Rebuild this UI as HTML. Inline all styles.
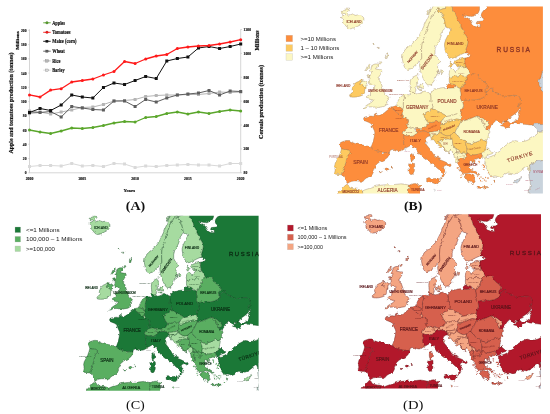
<!DOCTYPE html>
<html><head><meta charset="utf-8"><title>Figure</title>
<style>html,body{margin:0;padding:0;background:#fff}svg{display:block}</style></head><body>
<svg width="550" height="414" viewBox="0 0 550 414">
<rect width="550" height="414" fill="#fff"/>
<defs><filter id="jag" x="-2%" y="-2%" width="104%" height="104%" color-interpolation-filters="sRGB"><feTurbulence type="fractalNoise" baseFrequency="0.3" numOctaves="1" seed="7" result="n"/><feDisplacementMap in="SourceGraphic" in2="n" scale="4" xChannelSelector="R" yChannelSelector="G"/></filter></defs>
<g stroke="#c4c4c4" stroke-width="0.7" fill="none">
<path d="M29.5,29.3 V172.8 H240.7 V29.3"/>
<path d="M28.3,172.80 H29.5"/>
<path d="M28.3,158.55 H29.5"/>
<path d="M28.3,144.30 H29.5"/>
<path d="M28.3,130.05 H29.5"/>
<path d="M28.3,115.80 H29.5"/>
<path d="M28.3,101.55 H29.5"/>
<path d="M28.3,87.30 H29.5"/>
<path d="M28.3,73.05 H29.5"/>
<path d="M28.3,58.80 H29.5"/>
<path d="M28.3,44.55 H29.5"/>
<path d="M28.3,30.30 H29.5"/>
<path d="M240.7,172.80 h1.2"/>
<path d="M240.7,148.92 h1.2"/>
<path d="M240.7,125.03 h1.2"/>
<path d="M240.7,101.15 h1.2"/>
<path d="M240.7,77.27 h1.2"/>
<path d="M240.7,53.38 h1.2"/>
<path d="M240.7,29.50 h1.2"/>
</g>
<polyline points="29.50,166.5 40.06,165.5 50.62,165.5 61.18,166 71.74,163.5 82.30,166 92.86,165.5 103.42,166.5 113.98,163.5 124.54,164 135.10,167.5 145.66,166 156.22,166.5 166.78,165.5 177.34,165 187.90,164.5 198.46,165 209.02,165 219.58,166 230.14,163.5 240.70,163.5" fill="none" stroke="#d9d9d9" stroke-width="1.0" stroke-linejoin="round"/>
<rect x="28.00" y="165.00" width="3" height="3" fill="#d9d9d9"/>
<rect x="38.56" y="164.00" width="3" height="3" fill="#d9d9d9"/>
<rect x="49.12" y="164.00" width="3" height="3" fill="#d9d9d9"/>
<rect x="59.68" y="164.50" width="3" height="3" fill="#d9d9d9"/>
<rect x="70.24" y="162.00" width="3" height="3" fill="#d9d9d9"/>
<rect x="80.80" y="164.50" width="3" height="3" fill="#d9d9d9"/>
<rect x="91.36" y="164.00" width="3" height="3" fill="#d9d9d9"/>
<rect x="101.92" y="165.00" width="3" height="3" fill="#d9d9d9"/>
<rect x="112.48" y="162.00" width="3" height="3" fill="#d9d9d9"/>
<rect x="123.04" y="162.50" width="3" height="3" fill="#d9d9d9"/>
<rect x="133.60" y="166.00" width="3" height="3" fill="#d9d9d9"/>
<rect x="144.16" y="164.50" width="3" height="3" fill="#d9d9d9"/>
<rect x="154.72" y="165.00" width="3" height="3" fill="#d9d9d9"/>
<rect x="165.28" y="164.00" width="3" height="3" fill="#d9d9d9"/>
<rect x="175.84" y="163.50" width="3" height="3" fill="#d9d9d9"/>
<rect x="186.40" y="163.00" width="3" height="3" fill="#d9d9d9"/>
<rect x="196.96" y="163.50" width="3" height="3" fill="#d9d9d9"/>
<rect x="207.52" y="163.50" width="3" height="3" fill="#d9d9d9"/>
<rect x="218.08" y="164.50" width="3" height="3" fill="#d9d9d9"/>
<rect x="228.64" y="162.00" width="3" height="3" fill="#d9d9d9"/>
<rect x="239.20" y="162.00" width="3" height="3" fill="#d9d9d9"/>
<polyline points="29.50,111 40.06,112 50.62,114 61.18,112 71.74,110 82.30,107.5 92.86,107 103.42,104.5 113.98,101 124.54,100.5 135.10,99.5 145.66,96.5 156.22,95.5 166.78,95 177.34,95 187.90,94.5 198.46,94.5 209.02,93.5 219.58,92 230.14,92.5 240.70,92" fill="none" stroke="#b5b5b5" stroke-width="1.0" stroke-linejoin="round"/>
<rect x="28.00" y="109.50" width="3" height="3" fill="#b5b5b5"/>
<rect x="38.56" y="110.50" width="3" height="3" fill="#b5b5b5"/>
<rect x="49.12" y="112.50" width="3" height="3" fill="#b5b5b5"/>
<rect x="59.68" y="110.50" width="3" height="3" fill="#b5b5b5"/>
<rect x="70.24" y="108.50" width="3" height="3" fill="#b5b5b5"/>
<rect x="80.80" y="106.00" width="3" height="3" fill="#b5b5b5"/>
<rect x="91.36" y="105.50" width="3" height="3" fill="#b5b5b5"/>
<rect x="101.92" y="103.00" width="3" height="3" fill="#b5b5b5"/>
<rect x="112.48" y="99.50" width="3" height="3" fill="#b5b5b5"/>
<rect x="123.04" y="99.00" width="3" height="3" fill="#b5b5b5"/>
<rect x="133.60" y="98.00" width="3" height="3" fill="#b5b5b5"/>
<rect x="144.16" y="95.00" width="3" height="3" fill="#b5b5b5"/>
<rect x="154.72" y="94.00" width="3" height="3" fill="#b5b5b5"/>
<rect x="165.28" y="93.50" width="3" height="3" fill="#b5b5b5"/>
<rect x="175.84" y="93.50" width="3" height="3" fill="#b5b5b5"/>
<rect x="186.40" y="93.00" width="3" height="3" fill="#b5b5b5"/>
<rect x="196.96" y="93.00" width="3" height="3" fill="#b5b5b5"/>
<rect x="207.52" y="92.00" width="3" height="3" fill="#b5b5b5"/>
<rect x="218.08" y="90.50" width="3" height="3" fill="#b5b5b5"/>
<rect x="228.64" y="91.00" width="3" height="3" fill="#b5b5b5"/>
<rect x="239.20" y="90.50" width="3" height="3" fill="#b5b5b5"/>
<polyline points="29.50,113 40.06,112.5 50.62,111.5 61.18,117 71.74,106.5 82.30,108 92.86,109.5 103.42,110 113.98,101 124.54,101 135.10,106.5 145.66,99.5 156.22,102 166.78,98 177.34,95 187.90,94 198.46,93 209.02,90.5 219.58,95 230.14,91 240.70,91.5" fill="none" stroke="#5e5e5e" stroke-width="1.0" stroke-linejoin="round"/>
<rect x="28.00" y="111.50" width="3" height="3" fill="#5e5e5e"/>
<rect x="38.56" y="111.00" width="3" height="3" fill="#5e5e5e"/>
<rect x="49.12" y="110.00" width="3" height="3" fill="#5e5e5e"/>
<rect x="59.68" y="115.50" width="3" height="3" fill="#5e5e5e"/>
<rect x="70.24" y="105.00" width="3" height="3" fill="#5e5e5e"/>
<rect x="80.80" y="106.50" width="3" height="3" fill="#5e5e5e"/>
<rect x="91.36" y="108.00" width="3" height="3" fill="#5e5e5e"/>
<rect x="101.92" y="108.50" width="3" height="3" fill="#5e5e5e"/>
<rect x="112.48" y="99.50" width="3" height="3" fill="#5e5e5e"/>
<rect x="123.04" y="99.50" width="3" height="3" fill="#5e5e5e"/>
<rect x="133.60" y="105.00" width="3" height="3" fill="#5e5e5e"/>
<rect x="144.16" y="98.00" width="3" height="3" fill="#5e5e5e"/>
<rect x="154.72" y="100.50" width="3" height="3" fill="#5e5e5e"/>
<rect x="165.28" y="96.50" width="3" height="3" fill="#5e5e5e"/>
<rect x="175.84" y="93.50" width="3" height="3" fill="#5e5e5e"/>
<rect x="186.40" y="92.50" width="3" height="3" fill="#5e5e5e"/>
<rect x="196.96" y="91.50" width="3" height="3" fill="#5e5e5e"/>
<rect x="207.52" y="89.00" width="3" height="3" fill="#5e5e5e"/>
<rect x="218.08" y="93.50" width="3" height="3" fill="#5e5e5e"/>
<rect x="228.64" y="89.50" width="3" height="3" fill="#5e5e5e"/>
<rect x="239.20" y="90.00" width="3" height="3" fill="#5e5e5e"/>
<polyline points="29.50,130 40.06,132 50.62,133.5 61.18,131 71.74,128 82.30,128.5 92.86,127.5 103.42,125.5 113.98,123 124.54,121.5 135.10,122 145.66,117.5 156.22,116.5 166.78,113.5 177.34,112 187.90,114 198.46,112 209.02,113.5 219.58,111.5 230.14,110 240.70,111" fill="none" stroke="#5aa62b" stroke-width="1.3" stroke-linejoin="round"/>
<circle cx="29.50" cy="130" r="1.5" fill="#5aa62b"/>
<circle cx="40.06" cy="132" r="1.5" fill="#5aa62b"/>
<circle cx="50.62" cy="133.5" r="1.5" fill="#5aa62b"/>
<circle cx="61.18" cy="131" r="1.5" fill="#5aa62b"/>
<circle cx="71.74" cy="128" r="1.5" fill="#5aa62b"/>
<circle cx="82.30" cy="128.5" r="1.5" fill="#5aa62b"/>
<circle cx="92.86" cy="127.5" r="1.5" fill="#5aa62b"/>
<circle cx="103.42" cy="125.5" r="1.5" fill="#5aa62b"/>
<circle cx="113.98" cy="123" r="1.5" fill="#5aa62b"/>
<circle cx="124.54" cy="121.5" r="1.5" fill="#5aa62b"/>
<circle cx="135.10" cy="122" r="1.5" fill="#5aa62b"/>
<circle cx="145.66" cy="117.5" r="1.5" fill="#5aa62b"/>
<circle cx="156.22" cy="116.5" r="1.5" fill="#5aa62b"/>
<circle cx="166.78" cy="113.5" r="1.5" fill="#5aa62b"/>
<circle cx="177.34" cy="112" r="1.5" fill="#5aa62b"/>
<circle cx="187.90" cy="114" r="1.5" fill="#5aa62b"/>
<circle cx="198.46" cy="112" r="1.5" fill="#5aa62b"/>
<circle cx="209.02" cy="113.5" r="1.5" fill="#5aa62b"/>
<circle cx="219.58" cy="111.5" r="1.5" fill="#5aa62b"/>
<circle cx="230.14" cy="110" r="1.5" fill="#5aa62b"/>
<circle cx="240.70" cy="111" r="1.5" fill="#5aa62b"/>
<polyline points="29.50,112.5 40.06,108.5 50.62,110.5 61.18,105 71.74,95 82.30,97 92.86,98 103.42,87.5 113.98,83 124.54,84.5 135.10,80.5 145.66,76.5 156.22,78.5 166.78,61 177.34,58.5 187.90,57 198.46,48 209.02,46.5 219.58,48.5 230.14,46.5 240.70,44" fill="none" stroke="#111111" stroke-width="1.0" stroke-linejoin="round"/>
<rect x="28.00" y="111.00" width="3" height="3" fill="#111111"/>
<rect x="38.56" y="107.00" width="3" height="3" fill="#111111"/>
<rect x="49.12" y="109.00" width="3" height="3" fill="#111111"/>
<rect x="59.68" y="103.50" width="3" height="3" fill="#111111"/>
<rect x="70.24" y="93.50" width="3" height="3" fill="#111111"/>
<rect x="80.80" y="95.50" width="3" height="3" fill="#111111"/>
<rect x="91.36" y="96.50" width="3" height="3" fill="#111111"/>
<rect x="101.92" y="86.00" width="3" height="3" fill="#111111"/>
<rect x="112.48" y="81.50" width="3" height="3" fill="#111111"/>
<rect x="123.04" y="83.00" width="3" height="3" fill="#111111"/>
<rect x="133.60" y="79.00" width="3" height="3" fill="#111111"/>
<rect x="144.16" y="75.00" width="3" height="3" fill="#111111"/>
<rect x="154.72" y="77.00" width="3" height="3" fill="#111111"/>
<rect x="165.28" y="59.50" width="3" height="3" fill="#111111"/>
<rect x="175.84" y="57.00" width="3" height="3" fill="#111111"/>
<rect x="186.40" y="55.50" width="3" height="3" fill="#111111"/>
<rect x="196.96" y="46.50" width="3" height="3" fill="#111111"/>
<rect x="207.52" y="45.00" width="3" height="3" fill="#111111"/>
<rect x="218.08" y="47.00" width="3" height="3" fill="#111111"/>
<rect x="228.64" y="45.00" width="3" height="3" fill="#111111"/>
<rect x="239.20" y="42.50" width="3" height="3" fill="#111111"/>
<polyline points="29.50,94.9 40.06,97 50.62,90.1 61.18,88.7 71.74,82 82.30,80.5 92.86,79 103.42,75 113.98,71.5 124.54,61.5 135.10,63.5 145.66,59 156.22,56 166.78,54.5 177.34,48.5 187.90,47 198.46,46 209.02,45.5 219.58,44 230.14,42 240.70,39.7" fill="none" stroke="#ff1a1a" stroke-width="1.3" stroke-linejoin="round"/>
<circle cx="29.50" cy="94.9" r="1.5" fill="#ff1a1a"/>
<circle cx="40.06" cy="97" r="1.5" fill="#ff1a1a"/>
<circle cx="50.62" cy="90.1" r="1.5" fill="#ff1a1a"/>
<circle cx="61.18" cy="88.7" r="1.5" fill="#ff1a1a"/>
<circle cx="71.74" cy="82" r="1.5" fill="#ff1a1a"/>
<circle cx="82.30" cy="80.5" r="1.5" fill="#ff1a1a"/>
<circle cx="92.86" cy="79" r="1.5" fill="#ff1a1a"/>
<circle cx="103.42" cy="75" r="1.5" fill="#ff1a1a"/>
<circle cx="113.98" cy="71.5" r="1.5" fill="#ff1a1a"/>
<circle cx="124.54" cy="61.5" r="1.5" fill="#ff1a1a"/>
<circle cx="135.10" cy="63.5" r="1.5" fill="#ff1a1a"/>
<circle cx="145.66" cy="59" r="1.5" fill="#ff1a1a"/>
<circle cx="156.22" cy="56" r="1.5" fill="#ff1a1a"/>
<circle cx="166.78" cy="54.5" r="1.5" fill="#ff1a1a"/>
<circle cx="177.34" cy="48.5" r="1.5" fill="#ff1a1a"/>
<circle cx="187.90" cy="47" r="1.5" fill="#ff1a1a"/>
<circle cx="198.46" cy="46" r="1.5" fill="#ff1a1a"/>
<circle cx="209.02" cy="45.5" r="1.5" fill="#ff1a1a"/>
<circle cx="219.58" cy="44" r="1.5" fill="#ff1a1a"/>
<circle cx="230.14" cy="42" r="1.5" fill="#ff1a1a"/>
<circle cx="240.70" cy="39.7" r="1.5" fill="#ff1a1a"/>
<g font-family="Liberation Serif, Times New Roman, serif" font-weight="bold" font-size="4.8" fill="#111" stroke="#111" stroke-width="0.18">
<text x="26.5" y="174.35" text-anchor="end" textLength="1.85" lengthAdjust="spacingAndGlyphs">0</text>
<text x="26.5" y="160.10" text-anchor="end" textLength="3.70" lengthAdjust="spacingAndGlyphs">20</text>
<text x="26.5" y="145.85" text-anchor="end" textLength="3.70" lengthAdjust="spacingAndGlyphs">40</text>
<text x="26.5" y="131.60" text-anchor="end" textLength="3.70" lengthAdjust="spacingAndGlyphs">60</text>
<text x="26.5" y="117.35" text-anchor="end" textLength="3.70" lengthAdjust="spacingAndGlyphs">80</text>
<text x="26.5" y="103.10" text-anchor="end" textLength="5.55" lengthAdjust="spacingAndGlyphs">100</text>
<text x="26.5" y="88.85" text-anchor="end" textLength="5.55" lengthAdjust="spacingAndGlyphs">120</text>
<text x="26.5" y="74.60" text-anchor="end" textLength="5.55" lengthAdjust="spacingAndGlyphs">140</text>
<text x="26.5" y="60.35" text-anchor="end" textLength="5.55" lengthAdjust="spacingAndGlyphs">160</text>
<text x="26.5" y="46.10" text-anchor="end" textLength="5.55" lengthAdjust="spacingAndGlyphs">180</text>
<text x="26.5" y="31.85" text-anchor="end" textLength="5.55" lengthAdjust="spacingAndGlyphs">200</text>
<text x="243.6" y="174.35" textLength="3.70" lengthAdjust="spacingAndGlyphs">80</text>
<text x="243.6" y="150.47" textLength="5.55" lengthAdjust="spacingAndGlyphs">200</text>
<text x="243.6" y="126.58" textLength="5.55" lengthAdjust="spacingAndGlyphs">400</text>
<text x="243.6" y="102.70" textLength="5.55" lengthAdjust="spacingAndGlyphs">600</text>
<text x="243.6" y="78.82" textLength="5.55" lengthAdjust="spacingAndGlyphs">800</text>
<text x="243.6" y="54.93" textLength="7.40" lengthAdjust="spacingAndGlyphs">1000</text>
<text x="243.6" y="31.05" textLength="7.40" lengthAdjust="spacingAndGlyphs">1200</text>
<text x="29.50" y="180.3" text-anchor="middle" textLength="7.7" lengthAdjust="spacingAndGlyphs">2000</text>
<text x="82.30" y="180.3" text-anchor="middle" textLength="7.7" lengthAdjust="spacingAndGlyphs">2005</text>
<text x="135.10" y="180.3" text-anchor="middle" textLength="7.7" lengthAdjust="spacingAndGlyphs">2010</text>
<text x="187.90" y="180.3" text-anchor="middle" textLength="7.7" lengthAdjust="spacingAndGlyphs">2015</text>
<text x="240.70" y="180.3" text-anchor="middle" textLength="7.7" lengthAdjust="spacingAndGlyphs">2020</text>
<text x="129.3" y="191.5" text-anchor="middle" font-size="4.8">Years</text>
<text transform="translate(12.6,103) rotate(-90)" text-anchor="middle" font-size="5.2" textLength="101" lengthAdjust="spacingAndGlyphs">Apple and tomatoes production (tonnes)</text>
<text transform="translate(18.6,40.4) rotate(-90)" text-anchor="middle" font-size="5.0" textLength="18.6" lengthAdjust="spacingAndGlyphs">Millions</text>
<text transform="translate(263.3,102) rotate(-90)" text-anchor="middle" font-size="5.2" textLength="74" lengthAdjust="spacingAndGlyphs">Cereals production (tonnes)</text>
<text transform="translate(259,40.6) rotate(-90)" text-anchor="middle" font-size="5.2" textLength="19.9" lengthAdjust="spacingAndGlyphs">Millions</text>
<path d="M43.2,22.8 H50.7" stroke="#5aa62b" stroke-width="0.9"/>
<circle cx="46.95" cy="22.8" r="1.3" fill="#5aa62b"/>
<text x="52.2" y="24.7" font-size="5.8" textLength="12.8" lengthAdjust="spacingAndGlyphs">Apples</text>
<path d="M43.2,32.3 H50.7" stroke="#ff1a1a" stroke-width="0.9"/>
<circle cx="46.95" cy="32.3" r="1.3" fill="#ff1a1a"/>
<text x="52.2" y="34.199999999999996" font-size="5.8" textLength="18.2" lengthAdjust="spacingAndGlyphs">Tomatoes</text>
<path d="M43.2,41.3 H50.7" stroke="#111111" stroke-width="0.9"/>
<rect x="45.75" y="40.099999999999994" width="2.4" height="2.4" fill="#111111"/>
<text x="52.2" y="43.199999999999996" font-size="5.8" textLength="24.4" lengthAdjust="spacingAndGlyphs">Maize (corn)</text>
<path d="M43.2,51.2 H50.7" stroke="#5e5e5e" stroke-width="0.9"/>
<rect x="45.75" y="50.0" width="2.4" height="2.4" fill="#5e5e5e"/>
<text x="52.2" y="53.1" font-size="5.8" textLength="12.6" lengthAdjust="spacingAndGlyphs">Wheat</text>
<path d="M43.2,60.9 H50.7" stroke="#b5b5b5" stroke-width="0.9"/>
<rect x="45.75" y="59.699999999999996" width="2.4" height="2.4" fill="#b5b5b5"/>
<text x="52.2" y="62.8" font-size="5.8" textLength="8.2" lengthAdjust="spacingAndGlyphs">Rice</text>
<path d="M43.2,70.2 H50.7" stroke="#d9d9d9" stroke-width="0.9"/>
<rect x="45.75" y="69.0" width="2.4" height="2.4" fill="#d9d9d9"/>
<text x="52.2" y="72.10000000000001" font-size="5.8" textLength="12.4" lengthAdjust="spacingAndGlyphs">Barley</text>
</g>
<clipPath id="clipB"><rect x="325" y="6.5" width="217.89999999999998" height="186.95"/></clipPath>
<g transform="matrix(1,0,0,1,0,0)"><g clip-path="url(#clipB)">
<g stroke="#7a5a3a" stroke-width="0.3" stroke-linejoin="round" filter="url(#jag)">
<path d="M373,43.2 374.2,43.2 374.2,44.4 373,44.4ZM378.2,47.4 379.2,47.4 379.2,48.6 378.2,48.6Z" fill="#fcf7c2"/>
<path d="M451.8,3 479.5,3 479.5,10 478.5,12.5 477,14.5 474.5,16 471,16.5 467.5,16 464.5,15 462,15 463.5,15.8 466,17 468.5,18.5 470.5,20.5 472,23 473.5,25.5 476,26.8 479.5,27 480.5,25.5 478.5,24.5 476,23.5 477,21.5 480,21.2 483,21 484,19 482,17.5 481,15 482,12.5 484,10 486.5,9 487,3 546,3 546,123.8 540,123.5 536,124 533,125 530,125 526,124.5 522,124 518,123.5 515,122.5 514.5,121.5 516.5,120 518.5,118.5 519,116 518,114.5 519.5,112 520.5,109.5 519.8,108.5 518,107.5 519,105.5 520.5,102 520,98 518,95.5 512.2,95.4 506.4,96.5 501.3,95.8 499.1,93.6 495.5,92.9 492.5,89.3 489.6,89.6 486.7,92.2 484.5,96.8 485.3,93.6 484.5,90 486.7,87.8 487.5,84.2 484.5,82.5 482,80.5 480,78.5 478,76 476,74.5 473,74 470,73.5 468.5,70.5 466.5,67.5 466,67 465,64 464.5,61 465,58 468,57.5 470,56.5 470.5,55 469,54 467.5,53 464.5,53 465,52 466,49 467,46 467.8,43 468,39.5 466.5,36.5 464,33 462.5,29.5 461,26 459.5,23 457.5,20 456.5,16.5 455,13 452.5,10ZM446.5,86.5 448.5,85 450,83.5 452,84 454.5,84.5 456,85.5 455.5,87.5 452.5,88 449.5,88.2 447,88Z" fill="#fd8d3c"/>
<path d="M542,72.2 546,72.2 546,90.5 541,90.5 540.5,88 539,85 538.8,81 539.5,79 541,78 541.5,75Z" fill="#c9d3dc"/>
<path d="M461.5,101 465,100 470,99.5 475,100 480,99 484.5,96.8 486.7,92.2 489.6,89.6 492.5,89.3 495.5,92.9 499.1,93.6 501.3,95.8 506.4,96.5 512.2,95.4 518,95.5 520,98 520.5,102 519,105.5 518,107.5 519.8,108.5 518,111 515.5,113.5 512.5,115.5 509.5,117.5 508,120.5 508,121.2 505.5,121.5 503.5,121.8 501,123 498,122 496,119.8 495,121.5 493,123.5 491.5,126 490,128 489,130 486.5,130.5 485.5,129 486,126.5 487.5,125.5 488.5,123.5 486,121 483,118.5 480,117 477,116 474.5,117 471,118.5 467.5,120 464,120.5 461.3,121 461.5,117.5 460.5,115 461,112 462,109 463.5,106 463,103ZM505.5,121.5 508,121.2 509.5,122.8 512,122.2 514.5,121.8 515,123 512.5,124 510.5,125 509,127 507.5,129 505.5,128.5 504.5,126.5 502,126 500.5,125.5 502.5,123.5 504.5,122.5Z" fill="#fd8d3c"/>
<path d="M460,88.5 462,87.5 463.5,85 465,82.5 466.5,80 465.5,77 468,76 470,73.5 473,74 476,74.5 478,76 480,78.5 482,80.5 484.5,82.5 487.5,84.2 486.7,87.8 484.5,90 485.3,93.6 484.5,96.8 480,99 475,100 470,99.5 465,100 461.5,101 460,98 461,95 460.5,91.5Z" fill="#fd8d3c"/>
<path d="M481.3,152.3 484,151.5 487.1,147.9 488.5,149.4 491.5,151.9 493.3,152.6 492.2,153.7 489.6,154.5 487.5,155.5 485.6,157 484.2,158.5 483.1,158.1 482.7,155.9 481.6,154.5ZM495.1,153 498,151.9 500.9,149.7 503,148 505.5,145.5 508.5,143.5 511.5,142 514.5,140.5 517,141 520,141.5 523.5,141.5 527,140.5 530,139 533,137 536,135 538,133 538.5,132 546,131.5 546,160.2 538,161 535,162 532,163.5 529.5,165 530,168 529.8,172.5 528.8,173 528.5,169 527.5,166.5 525,168 522.5,169.5 520,171.5 517.5,173 514.5,174 511,173.5 507.5,173 505,174 503,176.5 500,177.5 497.5,176.5 495,176 492.5,176.5 490.5,175 489.6,175 488.9,173.4 487.5,171.9 487.8,169.7 486,168.3 486.7,166.1 484.9,164.3 485.6,162.5 484.2,160.6 484.9,158.8 486,157.7 489.3,157 491.5,156.3 493.6,155.2 495.1,154.1Z" fill="#fcf7c2"/>
<path d="M529.5,165 532,163.5 535,162 538,161 546,160.2 546,197 529,197 529.5,189 530.5,185 530,181 529,177 528.8,173 529.8,172.5 530,168Z" fill="#c9d3dc"/>
<path d="M533,125 536,124 540,123.5 546,123.8 546,131.5 538.5,132 538,130.5 537,129 535,127Z" fill="#c9d3dc"/>
<path d="M513,183 514.5,181.2 516.5,179.8 519,178.2 521.5,176.5 522,177.2 520,179.5 519.5,181 517.5,182.5 515,183.5 513.5,183.8Z" fill="#c9d3dc"/>
<path d="M341.73,12.09 343.91,10.27 345.73,9.18 348.64,9.18 349.36,11 347.91,12.45 347.18,13.91 348.64,15 350.09,14.64 351.55,13.91 353.73,14.64 355.55,15.36 357.36,15 359.55,14.64 361,15.36 362.45,16.45 363.55,18.27 363.91,20.09 363.18,21.91 362.09,23.73 359.91,25.18 357.73,26.27 355.18,27.36 352.64,28.45 350.09,28.82 347.91,28.09 346.45,26.64 345,24.82 343.91,23.36 342.09,22.27 341.36,21.18 342.82,20.45 343.91,19.36 342.45,18.27 340.64,17.18 340.64,16.09 342.45,15.73 344.27,15.36 345,14.27 343.55,13.55 342.09,13.18Z" fill="#fcf7c2"/>
<path d="M434.5,3 446.2,3 445.5,8.5 443,8.8 440,10 437.5,9 436.5,9.5 434.5,13 432,17 430,21 428.5,25 427,29 426,33 424.2,37.5 422.5,42 421.8,46 421.5,51 421.8,57 420.5,61 418.5,62 416.5,65 414.5,66.5 411.5,68.5 408,69.5 405,68 403.4,64.5 402.3,58.5 402.9,53.8 405.1,49.5 409.5,45.8 413.8,42.2 417,39 419.5,35 421.5,31 423.5,27 425,23 427,19 428.5,15 430,11 432,8.5ZM426.8,14.5 428,11.5 430,8.8 430.8,9.2 429,12 427.6,15Z" fill="#fcf7c2"/>
<path d="M437.5,9 439.5,11.5 442.5,15 444,18.5 445,22.5 445.7,26.5 444.5,28 443,31 441.5,35 440,39 438,42.5 436,46 435,50 435,54 436.5,57 438.5,59.5 440,61 439.5,63.5 438,65 437.5,68 438,71 437.5,74 436,76 434.5,80 433,82.5 430.5,84.5 428,85 426,83.5 424.5,81 422.5,77 421,73 420,69 419.5,65 420.5,61 421.8,57 421.5,51 421.8,46 422.5,42 424.2,37.5 426,33 427,29 428.5,25 430,21 432,17 434.5,13 436.5,9.5ZM441,69.6 442.9,71.8 441.5,74.7 440.4,72.5ZM438.3,70.4 439,70.6 439.5,74 438.9,74.2Z" fill="#fcf7c2"/>
<path d="M446.2,3 451.8,3 452.5,10 455,13 456.5,16.5 457.5,20 459.5,23 461,26 462.5,29.5 464,33 466.5,36.5 468,39.5 467.8,43 467,46 466,49 465,52 464.5,53 461,54.5 458,56 455,57.5 452,58.5 449.5,57.5 447.5,55.5 446,53 445,50 444.5,47 444.5,43.5 445.5,40 447,37 448.5,34 450.5,30.5 450,28.5 446.5,27 445.7,26.5 445,22.5 444,18.5 442.5,15 439.5,11.5 437.5,9 440,10 443,8.8 445.5,8.5Z" fill="#fdca60"/>
<path d="M454.5,61.5 457,60 460,59 463,58.5 465,58 464.5,61 465,64 466,67 464,66.5 461,67 458.5,66 457,66 455,65 453.5,63.5ZM450,63.5 451.5,64 452,66 450.5,67.5 449.5,66ZM450.5,61 452,61.5 451.5,62.5 450.3,62.3Z" fill="#fdca60"/>
<path d="M449.5,77.5 449,74 449.5,71 450.5,69.5 452.5,68.5 454.5,70.5 455.5,72.5 457,71 458,68.5 458.5,66 461,67 464,66.5 466.5,67.5 468.5,70.5 470,73.5 468,76 465.5,77 463,76 460,75.5 457,76 454,76.5 451.5,77Z" fill="#fcf7c2"/>
<path d="M449.5,77.5 451.5,77 454,76.5 457,76 460,75.5 463,76 465.5,77 466.5,80 465,82.5 463.5,85 462,87.5 460,88.5 458,87.5 456,85.5 454.5,84.5 452,84 450,83.5 449.3,82 449.2,79.5Z" fill="#fdca60"/>
<path d="M430.2,94 433,90.5 436,89 440,88 444,87.5 446.5,88 447,88 449.5,88.2 452.5,88 455.5,87.5 458,87.5 460,88.5 460.5,91.5 461,95 460,98 461.5,101 463,103 463.5,106 462,109 461,112 460.5,115 456.5,114 453,115 450,116 446.5,116.5 445,115 442,113.5 439.5,112 437,111 435,109.5 432.3,109.3 432.8,106.5 431.8,104 430.8,101 430.8,97Z" fill="#fcf7c2"/>
<path d="M403.5,95 406.5,94.5 409.5,95 410.8,92.2 415,92.5 416.5,94 419.5,93.5 422.5,92 425,91 428.5,92.5 430.2,94 430.8,97 430.8,101 431.8,104 432.8,106.5 432.3,109.3 429,111 426,112.5 424,114 424.5,117 426,120 428.5,123 427.5,124.5 426,127 424,128 421,129 418,128.5 415,129 413.5,128 411,127 407.5,128.5 407,126.5 407.8,123 408.5,119.8 405.5,118.5 402.5,117.8 403.5,116 402.3,114.5 402,113 403,111 402.5,109 403.5,107 403.2,104 403.5,101 404.5,98Z" fill="#fcf7c2"/>
<path d="M410.5,80 410,84 410.5,88 410.8,92.2 415,92.5 416,90 415,87.5 417,85.5 416.5,82.5 418,80 417.5,77 418,74.5 415,76 412,77.5ZM417,86.5 419,86 419.5,88 417.5,88.8ZM420,84.5 423,83.5 424,86 422.5,88.5 420.5,88 419.8,86.2ZM419.5,89.5 422,89.8 422,90.6 419.5,90.4ZM430.8,84.4 431.8,84.4 431.8,85.4 430.8,85.4Z" fill="#fcf7c2"/>
<path d="M395.8,106 397,103 398.5,100 400.5,97 403.5,95 404.5,98 403.5,101 403.2,104 403.5,107 402.5,109 400.5,107.5 398,106.5Z" fill="#fcf7c2"/>
<path d="M391.5,107 395.8,106 398,106.5 400.5,107.5 402.5,109 403,111 402,113 402.3,114.5 401,115 399,114.5 397.5,113 395.5,111.5 393.5,110 392,108.5Z" fill="#fd8d3c"/>
<path d="M401,115 402.3,114.5 403.5,116 402.5,117.8 401.2,117Z" fill="#fd8d3c"/>
<path d="M363.5,118.5 364.5,117 367.5,116.5 371,116 374,116.5 374.5,114 376.5,113 377,115.5 380.5,115 384,113 387,110.5 389.5,108.5 391.5,107 392,108.5 393.5,110 395.5,111.5 397.5,113 399,114.5 401,115 401.2,117 402.5,117.8 405.5,118.5 408.5,119.8 407.8,123 407,126.5 407,128.3 405,130 403,131.5 402.5,133.5 404,135 403.5,137 404.5,139.5 403.5,142 404.5,145 405.5,148 404.5,149 402,150.5 399.5,151 397,150.5 394.5,149.5 392,149.5 390,150.5 389.5,153 388,152.5 385.5,152.5 382.5,152.5 380,151.5 377,151 373.5,149.5 370,147.5 371.5,146 373,142 374,138 374.8,134 374.5,131 372.5,127 371.5,124 369,122.5 366.5,121.5 364,120.5ZM411.5,154.5 413,153.5 414,156 413.8,160 412.5,162 411.2,161 410.5,158 410.8,155.5Z" fill="#fd8d3c"/>
<path d="M407.5,128.5 411,127 413.5,128 415,129 415.5,131 417.5,132 417,134 415,134.5 413.5,136 411.5,136.5 409.5,135 407.5,136 405.5,135.5 404,135 402.5,133.5 403,131.5 405,130 407,128.3Z" fill="#fcf7c2"/>
<path d="M415,129 418,128.5 421,129 424,128 426,127 427.5,124.5 428.5,123 430,122 432.5,122.5 435,121.5 438,121 440.5,121.5 441.5,124 441,126.5 440.5,129 439.5,130.5 438,131 435,131.5 432,132 429,132 426,131.5 423,131 420,131.5 417.5,132 415.5,131Z" fill="#fd8d3c"/>
<path d="M424,114 426,112.5 429,111 432.3,109.3 435,109.5 437,111 439.5,112 442,113.5 445,115 446.5,116.5 444.5,118.5 442.5,119.5 441.5,121.5 440.5,121.5 438,121 435,121.5 432.5,122.5 430,122 428.5,123 426,120 424.5,117Z" fill="#fdca60"/>
<path d="M441.5,121.5 442.5,119.5 444.5,118.5 446.5,116.5 450,116 453,115 456.5,114 460.5,115 461.5,117.5 461.5,120 459.5,119.5 456.5,119 453.5,120 450.5,121.5 447.5,122.5 444.5,123.5 442,123.5 441.3,122.5Z" fill="#fcf7c2"/>
<path d="M442,123.5 444.5,123.5 447.5,122.5 450.5,121.5 453.5,120 456.5,119 459.5,119.5 461.5,120 461,121.5 459.5,124.5 458,127.5 456,130 455,133 453.5,132.5 452,134 450,135.5 447,136 444,135 441.5,133.5 439.5,132 440.5,129 441,126.5 441.5,124Z" fill="#fdca60"/>
<path d="M429,132 432,132 435,131.5 438,131 439.5,130.5 439.5,132 438.5,134 436.5,135 434,136 432,136.5 430,136 429.5,134.5 429,133Z" fill="#fcf7c2"/>
<path d="M438.5,134 439.5,132 441.5,133.5 444,135 447,136 450,135.5 451.5,136.5 452,139 450.5,139.5 448,139 445,139.5 442.5,140 440,140.5 439,141.5 440.5,144 442.5,146.5 444.5,149 446.5,151 449,153 450,154 448,152.5 445.5,150.5 443,148.5 440.5,146.5 438,145 436.5,144 435,141.5 433.5,139.5 432,140 431.5,140 431,138 430.5,136.5 432,136.5 434,136 436.5,135Z" fill="#fdca60"/>
<path d="M439,141.5 440,140.5 442.5,140 445,139.5 448,139 450.5,139.5 452,139 452.5,142 453,145 454,147.5 452.5,147.5 450.5,149.5 450,151 449,153 446.5,151 444.5,149 442.5,146.5 440.5,144Z" fill="#fcf7c2"/>
<path d="M451.5,136.5 450,135.5 452,134 453.5,132.5 455,133 457.5,135 459.5,137.5 461.5,139.5 464,140.5 465,141.5 465.5,144 466.5,146.5 467,149.5 466.5,151.5 467,154 464,153 461.5,152.5 460,152.5 459.5,150.5 457.5,149.5 456,148.5 454,147.5 453,145 452.5,142 452,139Z" fill="#fdca60"/>
<path d="M450.5,149.5 452.5,147.5 454,147.5 456,148.5 456.5,150.5 456.5,153 455,152.5 453.5,153.5 452,152 450,151Z" fill="#fcf7c2"/>
<path d="M456,148.5 457.5,149.5 459.5,150.5 460,152.5 458.5,154 456.5,153 456.5,150.5Z" fill="#fcf7c2"/>
<path d="M453.5,153.5 455,152.5 456.5,153 458.5,154 457.5,155.5 458,158 458.5,161 457,163 455.5,161.5 454.5,158.5 454,155.5Z" fill="#fcf7c2"/>
<path d="M458.5,154 460,152.5 461.5,152.5 464,153 467,154 467,156.5 465,158 462,158.5 459.5,159 458,158 457.5,155.5Z" fill="#fcf7c2"/>
<path d="M465,141.5 467.5,143 471,143.5 475,142.5 479,141 483,139.5 486,140 487,142 486.5,145 485.5,148 487,148.2 487.1,148 484,151.5 481.3,152.3 480,154 477,154.5 474,155 470.5,154.5 467,154 466.5,151.5 467,149.5 466.5,146.5 465.5,144Z" fill="#fdca60"/>
<path d="M461,121.5 464,120.5 467.5,120 471,118.5 474.5,117 477,116 478,117.5 480,119.5 482,122 483.5,124.5 484.5,127 485.5,129 486.5,130.5 489,130 490,132 488.5,134.5 488,138 487,140 486,140 483,139.5 479,141 475,142.5 471,143.5 467.5,143 465,141.5 464,140.5 461.5,139.5 459.5,137.5 457.5,135 455,133 456,130 458,127.5 459.5,124.5Z" fill="#fcf7c2"/>
<path d="M477,116 480,117 483,118.5 486,121 488.5,123.5 487.5,125.5 486,126.5 485.5,129 484.5,127 483.5,124.5 482,122 480,119.5 478,117.5Z" fill="#fcf7c2"/>
<path d="M458.5,161 458,158 459.5,159 462,158.5 465,158 467,156.5 467,154 470.5,154.5 474,155 477,154.5 480,154 481.3,152.3 481.6,154.5 482.4,156 481.5,157.5 479.5,158 476.5,158.5 474,160 475.2,161.8 474.2,163 473.2,161 472.6,163.5 471.6,161 471.5,160.5 470,162 469,164.5 470,167 471.5,169 474,170.5 476.5,172 479,173.7 478.5,174.7 475.5,173.6 473,173 471,172.5 469,173 466,173.5 463.5,173.5 461.5,172 460,170 459,167.5 459.5,165 457,163ZM465,175 467.5,174 470.5,174 473,175 474.5,177 473.5,179 474.5,181.5 474,184 472.5,182 471.5,183.5 470,181.5 468.5,182.5 467,180 465.5,177.5ZM476.5,187 479,186.5 482,186.8 485,186.5 488.5,186.5 488.5,187.5 485.5,188 482,188.5 479,188.2 476.5,188ZM494,180 495.2,180.8 494.6,182.6 493.8,181.5Z" fill="#fd8d3c"/>
<path d="M405.5,148 404.5,145 403.5,142 404.5,139.5 403.5,137 404,135 405.5,135.5 407.5,136 409.5,135 411.5,136.5 413.5,136 415,134.5 417,134 417.5,132 420,131.5 423,131 426,131.5 429,132 429,133 429.5,134.5 430,136 428,136.5 426,138 425,140.5 425.5,143.5 427.5,146 430,149 432,152 434,155 436,157 438.5,157.5 440.5,158 439.5,159.5 442,160.5 444.5,161.5 447.5,163 450,164.5 451.2,166 450.5,167.5 449,166 447,165 445,165.5 443.5,167 444,169 445.5,170.5 446,172.5 444.5,174.5 443.5,176.5 442,178.5 440.5,179 441.5,177.5 442.2,175 441.5,172.5 439.5,170 437,168 435,166 433.5,164 431,162.5 428.5,161 425.5,159.5 423,157.5 420.5,155 419,153.5 417.5,151 416,148.5 413.5,146.5 410.5,145.5 408,147ZM426.5,179.5 429,178.5 432,178.8 435,178.5 438.5,177.8 439.5,178.5 439,180.5 438.5,183 437.5,185 435.5,184 433,183 430.5,182 428,181.2 426.5,180.5ZM408.5,164.5 410.5,163.5 413,163 414.5,164.5 414.8,168 414.2,171.5 413,174 411,174.8 409.5,173.5 409,170 408.8,167Z" fill="#fd8d3c"/>
<path d="M340.5,142.5 343,141.5 346,140.5 348.5,140.5 351.5,142 355,143.5 359,144.5 363,145 366.5,146 370,147.5 373.5,149.5 377,151 380,151.5 382.5,152.5 385.5,152.5 388,152.5 389.5,153 389,155 387.5,157.5 385,159.5 382,161 379.5,162 377.5,163.5 375.5,165.5 374,168 373.2,170.5 373.5,172 372,175 369.5,177 366.5,178 364.5,179.5 363,181.5 360.5,181.2 357.5,181 354,181 351,181.5 349,182.5 347.5,183.5 346,181.5 345,179 343.5,176.5 342.5,174.5 343,171 344,168 345,165 346,162 346.5,159 346.8,157 348,155 350,153 349.5,151 347,150 344,149.5 341.5,149 341,147.5 340,145ZM385,168.5 387.5,167.8 389,169.5 387.5,171 385.5,170.5ZM391,167.3 392.6,167.6 392.5,168.4 391,168.2ZM379.8,171.5 381.2,171.3 381.2,172.7 379.8,172.6Z" fill="#fd8d3c"/>
<path d="M341.5,149 344,149.5 347,150 349.5,151 350,153 348,155 346.8,157 346.5,159 346,162 345,165 344,168 343,171 342.5,174.5 340.5,174.8 337.5,174.5 335,174 334.6,172 335.2,169 334.6,166 335.3,163 337,160 339,156.5 340.5,152.5Z" fill="#fdca60"/>
<path d="M336,197 338.5,192 341,190 343,188 345,185.5 347,184 348.5,185.5 349.5,187.5 352,188.5 355,189 358.5,189.5 361,190 362.5,191 363,197Z" fill="#fdca60"/>
<path d="M362.5,191 364.5,190 367.5,189 370.5,188 374,186.8 377.5,185.8 381,185.2 385,184.8 389.6,184.8 395.5,184.4 401.3,183.8 405,184.3 408.5,185 409,187 408.5,190 408,197 363,197Z" fill="#fcf7c2"/>
<path d="M408,197 408.5,190 409,187 408.5,185 410.5,185 413,183.8 415.5,183.5 417.5,184.5 418.5,186 420.5,184.5 420.8,186 419.5,188 420,190 420.5,192 420,197Z" fill="#fd8d3c"/>
<path d="M358.5,81.5 360.5,80 362.5,79.8 361.5,82 360,83.5 361.5,84.5 363.5,86 365,87 364.8,90 364.5,93 363,95 360,96.2 356.5,97 353,97.2 350,96.8 349.5,95 351,93.5 353,92 352,90 352.5,87.5 354,85.5 353.5,83.5 355.5,83 357,82Z" fill="#fdca60"/>
<path d="M372.5,65 375,64 378,64 378,64.5 377,66.5 375.5,69 378.5,69.5 381.5,70 382,72 380,75 378.5,77.5 378,79 380,80 381,83 382,86 383,89 384,92 385.2,94.5 387.5,96 389,98 388,100.5 385.5,102 387.5,103 386.5,105 384,106.5 381,107 378,107.5 375.5,107 373,107.2 370.5,106.8 367.5,107 365,108.5 362.5,108.5 364.5,107 367,105 369.5,103.5 372,102 373.5,100 371,99.5 368.5,99 365.5,98.5 366.5,96.5 369,95 371,93 369.5,91.5 372,90.5 374.3,89 374.5,87 375,85.5 374.5,85 372.5,84.5 370,84 369,82 370,79.5 369,77 370,75 371.5,72.5 370.5,70.5 371.5,67.5ZM361.5,82 362.5,79.8 365,80.5 367.2,82 367.8,84.5 366.5,86.2 365,87 363.5,86 361.5,84.5 360,83.5ZM365.5,70 367.5,66 370,64 369.8,65.8 367.8,69 366.2,70.8ZM367,75 369.5,74.5 370,76 367.5,76.5ZM366.5,77.7 369,78.1 369,79 366.5,78.6ZM379,63.5 381,61.5 381.8,62.5 380.2,64ZM385.5,57 387,54 388,54 387,57.5Z" fill="#fcf7c2"/>
<circle cx="484" cy="165.7" r="1.1" fill="#fd8d3c" stroke-width="0.12"/>
<circle cx="483.7" cy="170" r="0.7999999999999999" fill="#fd8d3c" stroke-width="0.12"/>
<circle cx="488" cy="172.5" r="0.7" fill="#fd8d3c" stroke-width="0.12"/>
<circle cx="461" cy="174.5" r="0.9" fill="#fd8d3c" stroke-width="0.12"/>
<circle cx="462" cy="177.5" r="0.7" fill="#fd8d3c" stroke-width="0.12"/>
<circle cx="457.5" cy="168" r="0.7999999999999999" fill="#fd8d3c" stroke-width="0.12"/>
<circle cx="479" cy="162.5" r="0.7" fill="#fd8d3c" stroke-width="0.12"/>
<circle cx="477" cy="159" r="0.6" fill="#fd8d3c" stroke-width="0.12"/>
<circle cx="491" cy="176.5" r="0.6" fill="#fd8d3c" stroke-width="0.12"/>
<circle cx="491.5" cy="184" r="0.6" fill="#fd8d3c" stroke-width="0.12"/>
<circle cx="481" cy="177" r="0.6" fill="#fd8d3c" stroke-width="0.12"/>
<circle cx="483" cy="178.5" r="0.6" fill="#fd8d3c" stroke-width="0.12"/>
<circle cx="484.5" cy="180" r="0.6" fill="#fd8d3c" stroke-width="0.12"/>
<circle cx="482" cy="181" r="0.6" fill="#fd8d3c" stroke-width="0.12"/>
<circle cx="485.5" cy="177.5" r="0.6" fill="#fd8d3c" stroke-width="0.12"/>
<circle cx="480.5" cy="179.5" r="0.6" fill="#fd8d3c" stroke-width="0.12"/>
<circle cx="486" cy="181" r="0.6" fill="#fd8d3c" stroke-width="0.12"/>
<circle cx="478.5" cy="176" r="0.6" fill="#fd8d3c" stroke-width="0.12"/>
<circle cx="487.5" cy="179" r="0.5" fill="#fd8d3c" stroke-width="0.12"/>
<circle cx="382.8" cy="153.2" r="0.85" fill="#ffffff" stroke="#888" stroke-width="0.3"/>
<circle cx="405.2" cy="148.6" r="0.85" fill="#ffffff" stroke="#888" stroke-width="0.3"/>
<circle cx="426.5" cy="158.8" r="0.85" fill="#ffffff" stroke="#888" stroke-width="0.3"/>
<circle cx="434.5" cy="190.2" r="0.85" fill="#ffffff" stroke="#888" stroke-width="0.3"/>
<circle cx="415.2" cy="130.2" r="0.85" fill="#ffffff" stroke="#888" stroke-width="0.3"/>
<circle cx="426.3" cy="143.2" r="0.85" fill="#ffffff" stroke="#888" stroke-width="0.3"/>
</g>
</g>
<g clip-path="url(#clipB)" font-family="Liberation Sans, Arial, sans-serif" text-anchor="middle">
<text x="353.9" y="23.0" font-size="3.46" fill="#8a3324" textLength="15.0" lengthAdjust="spacingAndGlyphs" stroke="#8a3324" stroke-width="0.13">ICELAND</text>
<text x="413.6" y="57.6" font-size="3.43" fill="#8a3324" transform="rotate(-49 413.6 57.6)" textLength="15" lengthAdjust="spacingAndGlyphs" stroke="#8a3324" stroke-width="0.13">NORWAY</text>
<text x="428.2" y="62.6" font-size="4.21" fill="#8a3324" transform="rotate(-54 428.2 62.6)" textLength="18.5" lengthAdjust="spacingAndGlyphs" stroke="#8a3324" stroke-width="0.13">SWEDEN</text>
<text x="455.4" y="44.5" font-size="3.81" fill="#8a3324" textLength="16.3" lengthAdjust="spacingAndGlyphs" stroke="#8a3324" stroke-width="0.13">FINLAND</text>
<text x="513.3" y="51.6" font-size="6.6" fill="#8a3324" textLength="33.4" lengthAdjust="spacing" stroke="#8a3324" stroke-width="0.3">RUSSIA</text>
<text x="459.5" y="63.3" font-size="1.6" fill="#8a3324" textLength="7" lengthAdjust="spacingAndGlyphs" opacity="0.85">ESTONIA</text>
<text x="461.5" y="73.5" font-size="1.78" fill="#8a3324" textLength="6" lengthAdjust="spacingAndGlyphs" opacity="0.85">LATVIA</text>
<text x="458.2" y="81.6" font-size="2.2" fill="#8a3324" textLength="11.5" lengthAdjust="spacingAndGlyphs" opacity="0.85">LITHUANIA</text>
<text x="473.5" y="92" font-size="3.86" fill="#8a3324" textLength="18" lengthAdjust="spacingAndGlyphs" stroke="#8a3324" stroke-width="0.13">BELARUS</text>
<text x="447" y="102.8" font-size="4.62" fill="#8a3324" textLength="19" lengthAdjust="spacingAndGlyphs" stroke="#8a3324" stroke-width="0.13">POLAND</text>
<text x="417.2" y="109" font-size="4.45" fill="#8a3324" textLength="22.5" lengthAdjust="spacingAndGlyphs" stroke="#8a3324" stroke-width="0.13">GERMANY</text>
<text x="487.3" y="109" font-size="4.81" fill="#8a3324" textLength="21.4" lengthAdjust="spacingAndGlyphs" stroke="#8a3324" stroke-width="0.13">UKRAINE</text>
<text x="388.7" y="131.8" font-size="4.74" fill="#8a3324" textLength="19.5" lengthAdjust="spacingAndGlyphs" stroke="#8a3324" stroke-width="0.13">FRANCE</text>
<text x="360.5" y="163.6" font-size="4.99" fill="#8a3324" textLength="14.6" lengthAdjust="spacingAndGlyphs" stroke="#8a3324" stroke-width="0.13">SPAIN</text>
<text x="415.5" y="142" font-size="4.18" fill="#8a3324" textLength="11" lengthAdjust="spacingAndGlyphs" stroke="#8a3324" stroke-width="0.13">ITALY</text>
<text x="471.7" y="132.9" font-size="3.54" fill="#8a3324" textLength="16.5" lengthAdjust="spacingAndGlyphs" stroke="#8a3324" stroke-width="0.13">ROMANIA</text>
<text x="520.3" y="158.6" font-size="5.2" fill="#8a3324" transform="rotate(-17 520.3 158.6)" textLength="26.2" lengthAdjust="spacing" stroke="#8a3324" stroke-width="0.13">TÜRKIYE</text>
<text x="387.6" y="192.3" font-size="4.61" fill="#8a3324" textLength="20" lengthAdjust="spacingAndGlyphs" stroke="#8a3324" stroke-width="0.13">ALGERIA</text>
<text x="350.7" y="192.9" font-size="3.09" fill="#8a3324" textLength="16.5" lengthAdjust="spacingAndGlyphs" stroke="#8a3324" stroke-width="0.13">MOROCCO</text>
<text x="417.7" y="191.2" font-size="3.42" fill="#8a3324" textLength="13.5" lengthAdjust="spacingAndGlyphs" stroke="#8a3324" stroke-width="0.13">TUNISIA</text>
<text x="336.3" y="158.2" font-size="2.55" fill="#8a3324" textLength="14" lengthAdjust="spacingAndGlyphs" opacity="0.85">PORTUGAL</text>
<text x="343.2" y="86.8" font-size="3.32" fill="#8a3324" textLength="14.4" lengthAdjust="spacingAndGlyphs" stroke="#8a3324" stroke-width="0.13">IRELAND</text>
<text x="380.2" y="91.9" font-size="2.79" fill="#8a3324" textLength="24.5" lengthAdjust="spacingAndGlyphs" stroke="#8a3324" stroke-width="0.13">UNITED KINGDOM</text>
<text x="403.2" y="81.3" font-size="2.5" fill="#8a3324" textLength="12.5" lengthAdjust="spacingAndGlyphs" opacity="0.85">DENMARK</text>
<text x="396.2" y="95.2" font-size="1.95" fill="#8a3324" textLength="14.5" lengthAdjust="spacingAndGlyphs" opacity="0.85">NETHERLANDS</text>
<text x="398.5" y="111.4" font-size="1.56" fill="#8a3324" textLength="7" lengthAdjust="spacingAndGlyphs" opacity="0.85">BELGIUM</text>
<text x="398.7" y="119" font-size="0.91" fill="#8a3324" textLength="6.5" lengthAdjust="spacingAndGlyphs" opacity="0.85">LUXEMBOURG</text>
<text x="435" y="116.6" font-size="2.05" fill="#8a3324" textLength="9" lengthAdjust="spacingAndGlyphs" opacity="0.85">CZECHIA</text>
<text x="432.8" y="127.6" font-size="2.19" fill="#8a3324" transform="rotate(-25 432.8 127.6)" textLength="9.5" lengthAdjust="spacingAndGlyphs" opacity="0.85">AUSTRIA</text>
<text x="449.5" y="128.6" font-size="2.61" fill="#8a3324" transform="rotate(-22 449.5 128.6)" textLength="13" lengthAdjust="spacingAndGlyphs" stroke="#8a3324" stroke-width="0.13">HUNGARY</text>
<text x="448.4" y="120.8" font-size="1.81" fill="#8a3324" transform="rotate(-16 448.4 120.8)" textLength="8.8" lengthAdjust="spacingAndGlyphs" opacity="0.85">SLOVAKIA</text>
<text x="409.2" y="132.6" font-size="1.92" fill="#8a3324" textLength="6.5" lengthAdjust="spacingAndGlyphs" opacity="0.85">SWITZ.</text>
<text x="458.2" y="144.4" font-size="2.04" fill="#8a3324" textLength="7.5" lengthAdjust="spacingAndGlyphs" opacity="0.85">SERBIA</text>
<text x="445.4" y="145.3" font-size="2.58" fill="#8a3324" textLength="4.3" lengthAdjust="spacingAndGlyphs" opacity="0.85">BIH</text>
<text x="444" y="138" font-size="1.6" fill="#8a3324" textLength="7" lengthAdjust="spacingAndGlyphs" opacity="0.85">CROATIA</text>
<text x="475.2" y="149.2" font-size="2.27" fill="#8a3324" transform="rotate(-8 475.2 149.2)" textLength="11.5" lengthAdjust="spacingAndGlyphs" opacity="0.85">BULGARIA</text>
<text x="470.5" y="166.4" font-size="3.32" fill="#8a3324" textLength="14" lengthAdjust="spacingAndGlyphs" stroke="#8a3324" stroke-width="0.13">GREECE</text>
<text x="483" y="122" font-size="1.42" fill="#8a3324" transform="rotate(55 483 122)" textLength="7" lengthAdjust="spacingAndGlyphs" opacity="0.85">MOLDOVA</text>
<text x="433.5" y="134.3" font-size="1.1" fill="#8a3324" textLength="5.5" lengthAdjust="spacingAndGlyphs" opacity="0.85">SLOVENIA</text>
<text x="458" y="151.8" font-size="0.69" fill="#8a3324" textLength="3" lengthAdjust="spacingAndGlyphs" opacity="0.85">KOSOVO</text>
<text x="456" y="158.5" font-size="0.95" fill="#8a3324" transform="rotate(70 456 158.5)" textLength="4" lengthAdjust="spacingAndGlyphs" opacity="0.85">ALBANIA</text>
<text x="462.5" y="156.2" font-size="0.82" fill="#8a3324" transform="rotate(-15 462.5 156.2)" textLength="6" lengthAdjust="spacingAndGlyphs" opacity="0.85">N. MACEDONIA</text>
<text x="453.3" y="150.7" font-size="0.62" fill="#8a3324" textLength="4.5" lengthAdjust="spacingAndGlyphs" opacity="0.85">MONTENEGRO</text>
<text x="538.2" y="173" font-size="3.5" fill="#a8475f" textLength="10.5" lengthAdjust="spacingAndGlyphs">SYRIA</text>
<text x="509.2" y="184.9" font-size="1.56" fill="#a8475f" textLength="6.5" lengthAdjust="spacingAndGlyphs" opacity="0.7">CYPRUS</text>
<text x="529" y="181.1" font-size="1.67" fill="#a8475f" textLength="8" lengthAdjust="spacingAndGlyphs" opacity="0.7">LEBANON</text>
<text x="526.5" y="190.7" font-size="1.27" fill="#a8475f" textLength="4.5" lengthAdjust="spacingAndGlyphs" opacity="0.7">ISRAEL</text>
<text x="439.5" y="191" font-size="1.57" fill="#a8475f" textLength="5" lengthAdjust="spacingAndGlyphs" opacity="0.7">MALTA</text>
<text x="407" y="151.7" font-size="1.11" fill="#a8475f" textLength="5" lengthAdjust="spacingAndGlyphs" opacity="0.7">MONACO</text>
<text x="537.7" y="189.3" font-size="1.22" fill="#a8475f" transform="rotate(-25 537.7 189.3)" textLength="5" lengthAdjust="spacingAndGlyphs" opacity="0.7">JORDAN</text>
</g></g>
<clipPath id="clipC"><rect x="325" y="9.15" width="204.64999999999998" height="184.54999999999998"/></clipPath>
<g transform="matrix(0.897,0,0,0.948,-216.5,207.2)"><g clip-path="url(#clipC)">
<g stroke="#0d3d1a" stroke-width="0.42" stroke-linejoin="round" filter="url(#jag)">
<path d="M373,43.2 374.2,43.2 374.2,44.4 373,44.4ZM378.2,47.4 379.2,47.4 379.2,48.6 378.2,48.6Z" fill="#a6dba0"/>
<path d="M451.8,3 479.5,3 479.5,10 478.5,12.5 477,14.5 474.5,16 471,16.5 467.5,16 464.5,15 462,15 463.5,15.8 466,17 468.5,18.5 470.5,20.5 472,23 473.5,25.5 476,26.8 479.5,27 480.5,25.5 478.5,24.5 476,23.5 477,21.5 480,21.2 483,21 484,19 482,17.5 481,15 482,12.5 484,10 486.5,9 487,3 546,3 546,123.8 540,123.5 536,124 533,125 530,125 526,124.5 522,124 518,123.5 515,122.5 514.5,121.5 516.5,120 518.5,118.5 519,116 518,114.5 519.5,112 520.5,109.5 519.8,108.5 518,107.5 519,105.5 520.5,102 520,98 518,95.5 512.2,95.4 506.4,96.5 501.3,95.8 499.1,93.6 495.5,92.9 492.5,89.3 489.6,89.6 486.7,92.2 484.5,96.8 485.3,93.6 484.5,90 486.7,87.8 487.5,84.2 484.5,82.5 482,80.5 480,78.5 478,76 476,74.5 473,74 470,73.5 468.5,70.5 466.5,67.5 466,67 465,64 464.5,61 465,58 468,57.5 470,56.5 470.5,55 469,54 467.5,53 464.5,53 465,52 466,49 467,46 467.8,43 468,39.5 466.5,36.5 464,33 462.5,29.5 461,26 459.5,23 457.5,20 456.5,16.5 455,13 452.5,10ZM446.5,86.5 448.5,85 450,83.5 452,84 454.5,84.5 456,85.5 455.5,87.5 452.5,88 449.5,88.2 447,88Z" fill="#1b7837"/>
<path d="M542,72.2 546,72.2 546,90.5 541,90.5 540.5,88 539,85 538.8,81 539.5,79 541,78 541.5,75Z" fill="#c9d3dc"/>
<path d="M461.5,101 465,100 470,99.5 475,100 480,99 484.5,96.8 486.7,92.2 489.6,89.6 492.5,89.3 495.5,92.9 499.1,93.6 501.3,95.8 506.4,96.5 512.2,95.4 518,95.5 520,98 520.5,102 519,105.5 518,107.5 519.8,108.5 518,111 515.5,113.5 512.5,115.5 509.5,117.5 508,120.5 508,121.2 505.5,121.5 503.5,121.8 501,123 498,122 496,119.8 495,121.5 493,123.5 491.5,126 490,128 489,130 486.5,130.5 485.5,129 486,126.5 487.5,125.5 488.5,123.5 486,121 483,118.5 480,117 477,116 474.5,117 471,118.5 467.5,120 464,120.5 461.3,121 461.5,117.5 460.5,115 461,112 462,109 463.5,106 463,103ZM505.5,121.5 508,121.2 509.5,122.8 512,122.2 514.5,121.8 515,123 512.5,124 510.5,125 509,127 507.5,129 505.5,128.5 504.5,126.5 502,126 500.5,125.5 502.5,123.5 504.5,122.5Z" fill="#1b7837"/>
<path d="M460,88.5 462,87.5 463.5,85 465,82.5 466.5,80 465.5,77 468,76 470,73.5 473,74 476,74.5 478,76 480,78.5 482,80.5 484.5,82.5 487.5,84.2 486.7,87.8 484.5,90 485.3,93.6 484.5,96.8 480,99 475,100 470,99.5 465,100 461.5,101 460,98 461,95 460.5,91.5Z" fill="#5aae61"/>
<path d="M481.3,152.3 484,151.5 487.1,147.9 488.5,149.4 491.5,151.9 493.3,152.6 492.2,153.7 489.6,154.5 487.5,155.5 485.6,157 484.2,158.5 483.1,158.1 482.7,155.9 481.6,154.5ZM495.1,153 498,151.9 500.9,149.7 503,148 505.5,145.5 508.5,143.5 511.5,142 514.5,140.5 517,141 520,141.5 523.5,141.5 527,140.5 530,139 533,137 536,135 538,133 538.5,132 546,131.5 546,160.2 538,161 535,162 532,163.5 529.5,165 530,168 529.8,172.5 528.8,173 528.5,169 527.5,166.5 525,168 522.5,169.5 520,171.5 517.5,173 514.5,174 511,173.5 507.5,173 505,174 503,176.5 500,177.5 497.5,176.5 495,176 492.5,176.5 490.5,175 489.6,175 488.9,173.4 487.5,171.9 487.8,169.7 486,168.3 486.7,166.1 484.9,164.3 485.6,162.5 484.2,160.6 484.9,158.8 486,157.7 489.3,157 491.5,156.3 493.6,155.2 495.1,154.1Z" fill="#1b7837"/>
<path d="M529.5,165 532,163.5 535,162 538,161 546,160.2 546,197 529,197 529.5,189 530.5,185 530,181 529,177 528.8,173 529.8,172.5 530,168Z" fill="#c9d3dc"/>
<path d="M533,125 536,124 540,123.5 546,123.8 546,131.5 538.5,132 538,130.5 537,129 535,127Z" fill="#c9d3dc"/>
<path d="M513,183 514.5,181.2 516.5,179.8 519,178.2 521.5,176.5 522,177.2 520,179.5 519.5,181 517.5,182.5 515,183.5 513.5,183.8Z" fill="#a6dba0"/>
<path d="M341.73,12.09 343.91,10.27 345.73,9.18 348.64,9.18 349.36,11 347.91,12.45 347.18,13.91 348.64,15 350.09,14.64 351.55,13.91 353.73,14.64 355.55,15.36 357.36,15 359.55,14.64 361,15.36 362.45,16.45 363.55,18.27 363.91,20.09 363.18,21.91 362.09,23.73 359.91,25.18 357.73,26.27 355.18,27.36 352.64,28.45 350.09,28.82 347.91,28.09 346.45,26.64 345,24.82 343.91,23.36 342.09,22.27 341.36,21.18 342.82,20.45 343.91,19.36 342.45,18.27 340.64,17.18 340.64,16.09 342.45,15.73 344.27,15.36 345,14.27 343.55,13.55 342.09,13.18Z" fill="#a6dba0"/>
<path d="M434.5,3 446.2,3 445.5,8.5 443,8.8 440,10 437.5,9 436.5,9.5 434.5,13 432,17 430,21 428.5,25 427,29 426,33 424.2,37.5 422.5,42 421.8,46 421.5,51 421.8,57 420.5,61 418.5,62 416.5,65 414.5,66.5 411.5,68.5 408,69.5 405,68 403.4,64.5 402.3,58.5 402.9,53.8 405.1,49.5 409.5,45.8 413.8,42.2 417,39 419.5,35 421.5,31 423.5,27 425,23 427,19 428.5,15 430,11 432,8.5ZM426.8,14.5 428,11.5 430,8.8 430.8,9.2 429,12 427.6,15Z" fill="#a6dba0"/>
<path d="M437.5,9 439.5,11.5 442.5,15 444,18.5 445,22.5 445.7,26.5 444.5,28 443,31 441.5,35 440,39 438,42.5 436,46 435,50 435,54 436.5,57 438.5,59.5 440,61 439.5,63.5 438,65 437.5,68 438,71 437.5,74 436,76 434.5,80 433,82.5 430.5,84.5 428,85 426,83.5 424.5,81 422.5,77 421,73 420,69 419.5,65 420.5,61 421.8,57 421.5,51 421.8,46 422.5,42 424.2,37.5 426,33 427,29 428.5,25 430,21 432,17 434.5,13 436.5,9.5ZM441,69.6 442.9,71.8 441.5,74.7 440.4,72.5ZM438.3,70.4 439,70.6 439.5,74 438.9,74.2Z" fill="#a6dba0"/>
<path d="M446.2,3 451.8,3 452.5,10 455,13 456.5,16.5 457.5,20 459.5,23 461,26 462.5,29.5 464,33 466.5,36.5 468,39.5 467.8,43 467,46 466,49 465,52 464.5,53 461,54.5 458,56 455,57.5 452,58.5 449.5,57.5 447.5,55.5 446,53 445,50 444.5,47 444.5,43.5 445.5,40 447,37 448.5,34 450.5,30.5 450,28.5 446.5,27 445.7,26.5 445,22.5 444,18.5 442.5,15 439.5,11.5 437.5,9 440,10 443,8.8 445.5,8.5Z" fill="#a6dba0"/>
<path d="M454.5,61.5 457,60 460,59 463,58.5 465,58 464.5,61 465,64 466,67 464,66.5 461,67 458.5,66 457,66 455,65 453.5,63.5ZM450,63.5 451.5,64 452,66 450.5,67.5 449.5,66ZM450.5,61 452,61.5 451.5,62.5 450.3,62.3Z" fill="#a6dba0"/>
<path d="M449.5,77.5 449,74 449.5,71 450.5,69.5 452.5,68.5 454.5,70.5 455.5,72.5 457,71 458,68.5 458.5,66 461,67 464,66.5 466.5,67.5 468.5,70.5 470,73.5 468,76 465.5,77 463,76 460,75.5 457,76 454,76.5 451.5,77Z" fill="#a6dba0"/>
<path d="M449.5,77.5 451.5,77 454,76.5 457,76 460,75.5 463,76 465.5,77 466.5,80 465,82.5 463.5,85 462,87.5 460,88.5 458,87.5 456,85.5 454.5,84.5 452,84 450,83.5 449.3,82 449.2,79.5Z" fill="#a6dba0"/>
<path d="M430.2,94 433,90.5 436,89 440,88 444,87.5 446.5,88 447,88 449.5,88.2 452.5,88 455.5,87.5 458,87.5 460,88.5 460.5,91.5 461,95 460,98 461.5,101 463,103 463.5,106 462,109 461,112 460.5,115 456.5,114 453,115 450,116 446.5,116.5 445,115 442,113.5 439.5,112 437,111 435,109.5 432.3,109.3 432.8,106.5 431.8,104 430.8,101 430.8,97Z" fill="#1b7837"/>
<path d="M403.5,95 406.5,94.5 409.5,95 410.8,92.2 415,92.5 416.5,94 419.5,93.5 422.5,92 425,91 428.5,92.5 430.2,94 430.8,97 430.8,101 431.8,104 432.8,106.5 432.3,109.3 429,111 426,112.5 424,114 424.5,117 426,120 428.5,123 427.5,124.5 426,127 424,128 421,129 418,128.5 415,129 413.5,128 411,127 407.5,128.5 407,126.5 407.8,123 408.5,119.8 405.5,118.5 402.5,117.8 403.5,116 402.3,114.5 402,113 403,111 402.5,109 403.5,107 403.2,104 403.5,101 404.5,98Z" fill="#1b7837"/>
<path d="M410.5,80 410,84 410.5,88 410.8,92.2 415,92.5 416,90 415,87.5 417,85.5 416.5,82.5 418,80 417.5,77 418,74.5 415,76 412,77.5ZM417,86.5 419,86 419.5,88 417.5,88.8ZM420,84.5 423,83.5 424,86 422.5,88.5 420.5,88 419.8,86.2ZM419.5,89.5 422,89.8 422,90.6 419.5,90.4ZM430.8,84.4 431.8,84.4 431.8,85.4 430.8,85.4Z" fill="#a6dba0"/>
<path d="M395.8,106 397,103 398.5,100 400.5,97 403.5,95 404.5,98 403.5,101 403.2,104 403.5,107 402.5,109 400.5,107.5 398,106.5Z" fill="#5aae61"/>
<path d="M391.5,107 395.8,106 398,106.5 400.5,107.5 402.5,109 403,111 402,113 402.3,114.5 401,115 399,114.5 397.5,113 395.5,111.5 393.5,110 392,108.5Z" fill="#5aae61"/>
<path d="M401,115 402.3,114.5 403.5,116 402.5,117.8 401.2,117Z" fill="#a6dba0"/>
<path d="M363.5,118.5 364.5,117 367.5,116.5 371,116 374,116.5 374.5,114 376.5,113 377,115.5 380.5,115 384,113 387,110.5 389.5,108.5 391.5,107 392,108.5 393.5,110 395.5,111.5 397.5,113 399,114.5 401,115 401.2,117 402.5,117.8 405.5,118.5 408.5,119.8 407.8,123 407,126.5 407,128.3 405,130 403,131.5 402.5,133.5 404,135 403.5,137 404.5,139.5 403.5,142 404.5,145 405.5,148 404.5,149 402,150.5 399.5,151 397,150.5 394.5,149.5 392,149.5 390,150.5 389.5,153 388,152.5 385.5,152.5 382.5,152.5 380,151.5 377,151 373.5,149.5 370,147.5 371.5,146 373,142 374,138 374.8,134 374.5,131 372.5,127 371.5,124 369,122.5 366.5,121.5 364,120.5ZM411.5,154.5 413,153.5 414,156 413.8,160 412.5,162 411.2,161 410.5,158 410.8,155.5Z" fill="#1b7837"/>
<path d="M407.5,128.5 411,127 413.5,128 415,129 415.5,131 417.5,132 417,134 415,134.5 413.5,136 411.5,136.5 409.5,135 407.5,136 405.5,135.5 404,135 402.5,133.5 403,131.5 405,130 407,128.3Z" fill="#5aae61"/>
<path d="M415,129 418,128.5 421,129 424,128 426,127 427.5,124.5 428.5,123 430,122 432.5,122.5 435,121.5 438,121 440.5,121.5 441.5,124 441,126.5 440.5,129 439.5,130.5 438,131 435,131.5 432,132 429,132 426,131.5 423,131 420,131.5 417.5,132 415.5,131Z" fill="#5aae61"/>
<path d="M424,114 426,112.5 429,111 432.3,109.3 435,109.5 437,111 439.5,112 442,113.5 445,115 446.5,116.5 444.5,118.5 442.5,119.5 441.5,121.5 440.5,121.5 438,121 435,121.5 432.5,122.5 430,122 428.5,123 426,120 424.5,117Z" fill="#5aae61"/>
<path d="M441.5,121.5 442.5,119.5 444.5,118.5 446.5,116.5 450,116 453,115 456.5,114 460.5,115 461.5,117.5 461.5,120 459.5,119.5 456.5,119 453.5,120 450.5,121.5 447.5,122.5 444.5,123.5 442,123.5 441.3,122.5Z" fill="#a6dba0"/>
<path d="M442,123.5 444.5,123.5 447.5,122.5 450.5,121.5 453.5,120 456.5,119 459.5,119.5 461.5,120 461,121.5 459.5,124.5 458,127.5 456,130 455,133 453.5,132.5 452,134 450,135.5 447,136 444,135 441.5,133.5 439.5,132 440.5,129 441,126.5 441.5,124Z" fill="#5aae61"/>
<path d="M429,132 432,132 435,131.5 438,131 439.5,130.5 439.5,132 438.5,134 436.5,135 434,136 432,136.5 430,136 429.5,134.5 429,133Z" fill="#a6dba0"/>
<path d="M438.5,134 439.5,132 441.5,133.5 444,135 447,136 450,135.5 451.5,136.5 452,139 450.5,139.5 448,139 445,139.5 442.5,140 440,140.5 439,141.5 440.5,144 442.5,146.5 444.5,149 446.5,151 449,153 450,154 448,152.5 445.5,150.5 443,148.5 440.5,146.5 438,145 436.5,144 435,141.5 433.5,139.5 432,140 431.5,140 431,138 430.5,136.5 432,136.5 434,136 436.5,135Z" fill="#a6dba0"/>
<path d="M439,141.5 440,140.5 442.5,140 445,139.5 448,139 450.5,139.5 452,139 452.5,142 453,145 454,147.5 452.5,147.5 450.5,149.5 450,151 449,153 446.5,151 444.5,149 442.5,146.5 440.5,144Z" fill="#5aae61"/>
<path d="M451.5,136.5 450,135.5 452,134 453.5,132.5 455,133 457.5,135 459.5,137.5 461.5,139.5 464,140.5 465,141.5 465.5,144 466.5,146.5 467,149.5 466.5,151.5 467,154 464,153 461.5,152.5 460,152.5 459.5,150.5 457.5,149.5 456,148.5 454,147.5 453,145 452.5,142 452,139Z" fill="#5aae61"/>
<path d="M450.5,149.5 452.5,147.5 454,147.5 456,148.5 456.5,150.5 456.5,153 455,152.5 453.5,153.5 452,152 450,151Z" fill="#a6dba0"/>
<path d="M456,148.5 457.5,149.5 459.5,150.5 460,152.5 458.5,154 456.5,153 456.5,150.5Z" fill="#5aae61"/>
<path d="M453.5,153.5 455,152.5 456.5,153 458.5,154 457.5,155.5 458,158 458.5,161 457,163 455.5,161.5 454.5,158.5 454,155.5Z" fill="#5aae61"/>
<path d="M458.5,154 460,152.5 461.5,152.5 464,153 467,154 467,156.5 465,158 462,158.5 459.5,159 458,158 457.5,155.5Z" fill="#5aae61"/>
<path d="M465,141.5 467.5,143 471,143.5 475,142.5 479,141 483,139.5 486,140 487,142 486.5,145 485.5,148 487,148.2 487.1,148 484,151.5 481.3,152.3 480,154 477,154.5 474,155 470.5,154.5 467,154 466.5,151.5 467,149.5 466.5,146.5 465.5,144Z" fill="#a6dba0"/>
<path d="M461,121.5 464,120.5 467.5,120 471,118.5 474.5,117 477,116 478,117.5 480,119.5 482,122 483.5,124.5 484.5,127 485.5,129 486.5,130.5 489,130 490,132 488.5,134.5 488,138 487,140 486,140 483,139.5 479,141 475,142.5 471,143.5 467.5,143 465,141.5 464,140.5 461.5,139.5 459.5,137.5 457.5,135 455,133 456,130 458,127.5 459.5,124.5Z" fill="#5aae61"/>
<path d="M477,116 480,117 483,118.5 486,121 488.5,123.5 487.5,125.5 486,126.5 485.5,129 484.5,127 483.5,124.5 482,122 480,119.5 478,117.5Z" fill="#5aae61"/>
<path d="M458.5,161 458,158 459.5,159 462,158.5 465,158 467,156.5 467,154 470.5,154.5 474,155 477,154.5 480,154 481.3,152.3 481.6,154.5 482.4,156 481.5,157.5 479.5,158 476.5,158.5 474,160 475.2,161.8 474.2,163 473.2,161 472.6,163.5 471.6,161 471.5,160.5 470,162 469,164.5 470,167 471.5,169 474,170.5 476.5,172 479,173.7 478.5,174.7 475.5,173.6 473,173 471,172.5 469,173 466,173.5 463.5,173.5 461.5,172 460,170 459,167.5 459.5,165 457,163ZM465,175 467.5,174 470.5,174 473,175 474.5,177 473.5,179 474.5,181.5 474,184 472.5,182 471.5,183.5 470,181.5 468.5,182.5 467,180 465.5,177.5ZM476.5,187 479,186.5 482,186.8 485,186.5 488.5,186.5 488.5,187.5 485.5,188 482,188.5 479,188.2 476.5,188ZM494,180 495.2,180.8 494.6,182.6 493.8,181.5Z" fill="#5aae61"/>
<path d="M405.5,148 404.5,145 403.5,142 404.5,139.5 403.5,137 404,135 405.5,135.5 407.5,136 409.5,135 411.5,136.5 413.5,136 415,134.5 417,134 417.5,132 420,131.5 423,131 426,131.5 429,132 429,133 429.5,134.5 430,136 428,136.5 426,138 425,140.5 425.5,143.5 427.5,146 430,149 432,152 434,155 436,157 438.5,157.5 440.5,158 439.5,159.5 442,160.5 444.5,161.5 447.5,163 450,164.5 451.2,166 450.5,167.5 449,166 447,165 445,165.5 443.5,167 444,169 445.5,170.5 446,172.5 444.5,174.5 443.5,176.5 442,178.5 440.5,179 441.5,177.5 442.2,175 441.5,172.5 439.5,170 437,168 435,166 433.5,164 431,162.5 428.5,161 425.5,159.5 423,157.5 420.5,155 419,153.5 417.5,151 416,148.5 413.5,146.5 410.5,145.5 408,147ZM426.5,179.5 429,178.5 432,178.8 435,178.5 438.5,177.8 439.5,178.5 439,180.5 438.5,183 437.5,185 435.5,184 433,183 430.5,182 428,181.2 426.5,180.5ZM408.5,164.5 410.5,163.5 413,163 414.5,164.5 414.8,168 414.2,171.5 413,174 411,174.8 409.5,173.5 409,170 408.8,167Z" fill="#1b7837"/>
<path d="M340.5,142.5 343,141.5 346,140.5 348.5,140.5 351.5,142 355,143.5 359,144.5 363,145 366.5,146 370,147.5 373.5,149.5 377,151 380,151.5 382.5,152.5 385.5,152.5 388,152.5 389.5,153 389,155 387.5,157.5 385,159.5 382,161 379.5,162 377.5,163.5 375.5,165.5 374,168 373.2,170.5 373.5,172 372,175 369.5,177 366.5,178 364.5,179.5 363,181.5 360.5,181.2 357.5,181 354,181 351,181.5 349,182.5 347.5,183.5 346,181.5 345,179 343.5,176.5 342.5,174.5 343,171 344,168 345,165 346,162 346.5,159 346.8,157 348,155 350,153 349.5,151 347,150 344,149.5 341.5,149 341,147.5 340,145ZM385,168.5 387.5,167.8 389,169.5 387.5,171 385.5,170.5ZM391,167.3 392.6,167.6 392.5,168.4 391,168.2ZM379.8,171.5 381.2,171.3 381.2,172.7 379.8,172.6Z" fill="#5aae61"/>
<path d="M341.5,149 344,149.5 347,150 349.5,151 350,153 348,155 346.8,157 346.5,159 346,162 345,165 344,168 343,171 342.5,174.5 340.5,174.8 337.5,174.5 335,174 334.6,172 335.2,169 334.6,166 335.3,163 337,160 339,156.5 340.5,152.5Z" fill="#5aae61"/>
<path d="M336,197 338.5,192 341,190 343,188 345,185.5 347,184 348.5,185.5 349.5,187.5 352,188.5 355,189 358.5,189.5 361,190 362.5,191 363,197Z" fill="#5aae61"/>
<path d="M362.5,191 364.5,190 367.5,189 370.5,188 374,186.8 377.5,185.8 381,185.2 385,184.8 389.6,184.8 395.5,184.4 401.3,183.8 405,184.3 408.5,185 409,187 408.5,190 408,197 363,197Z" fill="#5aae61"/>
<path d="M408,197 408.5,190 409,187 408.5,185 410.5,185 413,183.8 415.5,183.5 417.5,184.5 418.5,186 420.5,184.5 420.8,186 419.5,188 420,190 420.5,192 420,197Z" fill="#5aae61"/>
<path d="M358.5,81.5 360.5,80 362.5,79.8 361.5,82 360,83.5 361.5,84.5 363.5,86 365,87 364.8,90 364.5,93 363,95 360,96.2 356.5,97 353,97.2 350,96.8 349.5,95 351,93.5 353,92 352,90 352.5,87.5 354,85.5 353.5,83.5 355.5,83 357,82Z" fill="#a6dba0"/>
<path d="M372.5,65 375,64 378,64 378,64.5 377,66.5 375.5,69 378.5,69.5 381.5,70 382,72 380,75 378.5,77.5 378,79 380,80 381,83 382,86 383,89 384,92 385.2,94.5 387.5,96 389,98 388,100.5 385.5,102 387.5,103 386.5,105 384,106.5 381,107 378,107.5 375.5,107 373,107.2 370.5,106.8 367.5,107 365,108.5 362.5,108.5 364.5,107 367,105 369.5,103.5 372,102 373.5,100 371,99.5 368.5,99 365.5,98.5 366.5,96.5 369,95 371,93 369.5,91.5 372,90.5 374.3,89 374.5,87 375,85.5 374.5,85 372.5,84.5 370,84 369,82 370,79.5 369,77 370,75 371.5,72.5 370.5,70.5 371.5,67.5ZM361.5,82 362.5,79.8 365,80.5 367.2,82 367.8,84.5 366.5,86.2 365,87 363.5,86 361.5,84.5 360,83.5ZM365.5,70 367.5,66 370,64 369.8,65.8 367.8,69 366.2,70.8ZM367,75 369.5,74.5 370,76 367.5,76.5ZM366.5,77.7 369,78.1 369,79 366.5,78.6ZM379,63.5 381,61.5 381.8,62.5 380.2,64ZM385.5,57 387,54 388,54 387,57.5Z" fill="#5aae61"/>
<circle cx="484" cy="165.7" r="1.1" fill="#5aae61" stroke-width="0.168"/>
<circle cx="483.7" cy="170" r="0.7999999999999999" fill="#5aae61" stroke-width="0.168"/>
<circle cx="488" cy="172.5" r="0.7" fill="#5aae61" stroke-width="0.168"/>
<circle cx="461" cy="174.5" r="0.9" fill="#5aae61" stroke-width="0.168"/>
<circle cx="462" cy="177.5" r="0.7" fill="#5aae61" stroke-width="0.168"/>
<circle cx="457.5" cy="168" r="0.7999999999999999" fill="#5aae61" stroke-width="0.168"/>
<circle cx="479" cy="162.5" r="0.7" fill="#5aae61" stroke-width="0.168"/>
<circle cx="477" cy="159" r="0.6" fill="#5aae61" stroke-width="0.168"/>
<circle cx="491" cy="176.5" r="0.6" fill="#5aae61" stroke-width="0.168"/>
<circle cx="491.5" cy="184" r="0.6" fill="#5aae61" stroke-width="0.168"/>
<circle cx="481" cy="177" r="0.6" fill="#5aae61" stroke-width="0.168"/>
<circle cx="483" cy="178.5" r="0.6" fill="#5aae61" stroke-width="0.168"/>
<circle cx="484.5" cy="180" r="0.6" fill="#5aae61" stroke-width="0.168"/>
<circle cx="482" cy="181" r="0.6" fill="#5aae61" stroke-width="0.168"/>
<circle cx="485.5" cy="177.5" r="0.6" fill="#5aae61" stroke-width="0.168"/>
<circle cx="480.5" cy="179.5" r="0.6" fill="#5aae61" stroke-width="0.168"/>
<circle cx="486" cy="181" r="0.6" fill="#5aae61" stroke-width="0.168"/>
<circle cx="478.5" cy="176" r="0.6" fill="#5aae61" stroke-width="0.168"/>
<circle cx="487.5" cy="179" r="0.5" fill="#5aae61" stroke-width="0.168"/>
<circle cx="382.8" cy="153.2" r="0.85" fill="#a6dba0" stroke="#0d3d1a" stroke-width="0.3"/>
<circle cx="405.2" cy="148.6" r="0.85" fill="#a6dba0" stroke="#0d3d1a" stroke-width="0.3"/>
<circle cx="426.5" cy="158.8" r="0.85" fill="#a6dba0" stroke="#0d3d1a" stroke-width="0.3"/>
<circle cx="434.5" cy="190.2" r="0.85" fill="#a6dba0" stroke="#0d3d1a" stroke-width="0.3"/>
<circle cx="415.2" cy="130.2" r="0.85" fill="#a6dba0" stroke="#0d3d1a" stroke-width="0.3"/>
<circle cx="426.3" cy="143.2" r="0.85" fill="#a6dba0" stroke="#0d3d1a" stroke-width="0.3"/>
</g>
</g>
<g clip-path="url(#clipC)" font-family="Liberation Sans, Arial, sans-serif" text-anchor="middle">
<text x="353.9" y="23.0" font-size="3.46" fill="#0a2a12" textLength="15.0" lengthAdjust="spacingAndGlyphs" stroke="#0a2a12" stroke-width="0.17">ICELAND</text>
<text x="413.6" y="57.6" font-size="3.43" fill="#0a2a12" transform="rotate(-49 413.6 57.6)" textLength="15" lengthAdjust="spacingAndGlyphs" stroke="#0a2a12" stroke-width="0.17">NORWAY</text>
<text x="428.2" y="62.6" font-size="4.21" fill="#0a2a12" transform="rotate(-54 428.2 62.6)" textLength="18.5" lengthAdjust="spacingAndGlyphs" stroke="#0a2a12" stroke-width="0.17">SWEDEN</text>
<text x="455.4" y="44.5" font-size="3.81" fill="#0a2a12" textLength="16.3" lengthAdjust="spacingAndGlyphs" stroke="#0a2a12" stroke-width="0.17">FINLAND</text>
<text x="513.3" y="51.6" font-size="6.6" fill="#0a2a12" textLength="33.4" lengthAdjust="spacing" stroke="#0a2a12" stroke-width="0.3">RUSSIA</text>
<text x="459.5" y="63.3" font-size="1.6" fill="#0a2a12" textLength="7" lengthAdjust="spacingAndGlyphs" opacity="0.85">ESTONIA</text>
<text x="461.5" y="73.5" font-size="1.78" fill="#0a2a12" textLength="6" lengthAdjust="spacingAndGlyphs" opacity="0.85">LATVIA</text>
<text x="458.2" y="81.6" font-size="2.2" fill="#0a2a12" textLength="11.5" lengthAdjust="spacingAndGlyphs" opacity="0.85">LITHUANIA</text>
<text x="473.5" y="92" font-size="3.86" fill="#0a2a12" textLength="18" lengthAdjust="spacingAndGlyphs" stroke="#0a2a12" stroke-width="0.17">BELARUS</text>
<text x="447" y="102.8" font-size="4.62" fill="#0a2a12" textLength="19" lengthAdjust="spacingAndGlyphs" stroke="#0a2a12" stroke-width="0.17">POLAND</text>
<text x="417.2" y="109" font-size="4.45" fill="#0a2a12" textLength="22.5" lengthAdjust="spacingAndGlyphs" stroke="#0a2a12" stroke-width="0.17">GERMANY</text>
<text x="487.3" y="109" font-size="4.81" fill="#0a2a12" textLength="21.4" lengthAdjust="spacingAndGlyphs" stroke="#0a2a12" stroke-width="0.17">UKRAINE</text>
<text x="388.7" y="131.8" font-size="4.74" fill="#0a2a12" textLength="19.5" lengthAdjust="spacingAndGlyphs" stroke="#0a2a12" stroke-width="0.17">FRANCE</text>
<text x="360.5" y="163.6" font-size="4.99" fill="#0a2a12" textLength="14.6" lengthAdjust="spacingAndGlyphs" stroke="#0a2a12" stroke-width="0.17">SPAIN</text>
<text x="415.5" y="142" font-size="4.18" fill="#0a2a12" textLength="11" lengthAdjust="spacingAndGlyphs" stroke="#0a2a12" stroke-width="0.17">ITALY</text>
<text x="471.7" y="132.9" font-size="3.54" fill="#0a2a12" textLength="16.5" lengthAdjust="spacingAndGlyphs" stroke="#0a2a12" stroke-width="0.17">ROMANIA</text>
<text x="520.3" y="158.6" font-size="5.2" fill="#0a2a12" transform="rotate(-17 520.3 158.6)" textLength="26.2" lengthAdjust="spacing" stroke="#0a2a12" stroke-width="0.17">TÜRKIYE</text>
<text x="387.6" y="192.3" font-size="4.61" fill="#0a2a12" textLength="20" lengthAdjust="spacingAndGlyphs" stroke="#0a2a12" stroke-width="0.17">ALGERIA</text>
<text x="350.7" y="192.9" font-size="3.09" fill="#0a2a12" textLength="16.5" lengthAdjust="spacingAndGlyphs" stroke="#0a2a12" stroke-width="0.17">MOROCCO</text>
<text x="417.7" y="191.2" font-size="3.42" fill="#0a2a12" textLength="13.5" lengthAdjust="spacingAndGlyphs" stroke="#0a2a12" stroke-width="0.17">TUNISIA</text>
<text x="336.3" y="158.2" font-size="2.55" fill="#0a2a12" textLength="14" lengthAdjust="spacingAndGlyphs" opacity="0.85">PORTUGAL</text>
<text x="343.2" y="86.8" font-size="3.32" fill="#0a2a12" textLength="14.4" lengthAdjust="spacingAndGlyphs" stroke="#0a2a12" stroke-width="0.17">IRELAND</text>
<text x="380.2" y="91.9" font-size="2.79" fill="#0a2a12" textLength="24.5" lengthAdjust="spacingAndGlyphs" stroke="#0a2a12" stroke-width="0.17">UNITED KINGDOM</text>
<text x="403.2" y="81.3" font-size="2.5" fill="#0a2a12" textLength="12.5" lengthAdjust="spacingAndGlyphs" opacity="0.85">DENMARK</text>
<text x="396.2" y="95.2" font-size="1.95" fill="#0a2a12" textLength="14.5" lengthAdjust="spacingAndGlyphs" opacity="0.85">NETHERLANDS</text>
<text x="398.5" y="111.4" font-size="1.56" fill="#0a2a12" textLength="7" lengthAdjust="spacingAndGlyphs" opacity="0.85">BELGIUM</text>
<text x="398.7" y="119" font-size="0.91" fill="#0a2a12" textLength="6.5" lengthAdjust="spacingAndGlyphs" opacity="0.85">LUXEMBOURG</text>
<text x="435" y="116.6" font-size="2.05" fill="#0a2a12" textLength="9" lengthAdjust="spacingAndGlyphs" opacity="0.85">CZECHIA</text>
<text x="432.8" y="127.6" font-size="2.19" fill="#0a2a12" transform="rotate(-25 432.8 127.6)" textLength="9.5" lengthAdjust="spacingAndGlyphs" opacity="0.85">AUSTRIA</text>
<text x="449.5" y="128.6" font-size="2.61" fill="#0a2a12" transform="rotate(-22 449.5 128.6)" textLength="13" lengthAdjust="spacingAndGlyphs" stroke="#0a2a12" stroke-width="0.17">HUNGARY</text>
<text x="448.4" y="120.8" font-size="1.81" fill="#0a2a12" transform="rotate(-16 448.4 120.8)" textLength="8.8" lengthAdjust="spacingAndGlyphs" opacity="0.85">SLOVAKIA</text>
<text x="409.2" y="132.6" font-size="1.92" fill="#0a2a12" textLength="6.5" lengthAdjust="spacingAndGlyphs" opacity="0.85">SWITZ.</text>
<text x="458.2" y="144.4" font-size="2.04" fill="#0a2a12" textLength="7.5" lengthAdjust="spacingAndGlyphs" opacity="0.85">SERBIA</text>
<text x="445.4" y="145.3" font-size="2.58" fill="#0a2a12" textLength="4.3" lengthAdjust="spacingAndGlyphs" opacity="0.85">BIH</text>
<text x="444" y="138" font-size="1.6" fill="#0a2a12" textLength="7" lengthAdjust="spacingAndGlyphs" opacity="0.85">CROATIA</text>
<text x="475.2" y="149.2" font-size="2.27" fill="#0a2a12" transform="rotate(-8 475.2 149.2)" textLength="11.5" lengthAdjust="spacingAndGlyphs" opacity="0.85">BULGARIA</text>
<text x="470.5" y="166.4" font-size="3.32" fill="#0a2a12" textLength="14" lengthAdjust="spacingAndGlyphs" stroke="#0a2a12" stroke-width="0.17">GREECE</text>
<text x="483" y="122" font-size="1.42" fill="#0a2a12" transform="rotate(55 483 122)" textLength="7" lengthAdjust="spacingAndGlyphs" opacity="0.85">MOLDOVA</text>
<text x="433.5" y="134.3" font-size="1.1" fill="#0a2a12" textLength="5.5" lengthAdjust="spacingAndGlyphs" opacity="0.85">SLOVENIA</text>
<text x="458" y="151.8" font-size="0.69" fill="#0a2a12" textLength="3" lengthAdjust="spacingAndGlyphs" opacity="0.85">KOSOVO</text>
<text x="456" y="158.5" font-size="0.95" fill="#0a2a12" transform="rotate(70 456 158.5)" textLength="4" lengthAdjust="spacingAndGlyphs" opacity="0.85">ALBANIA</text>
<text x="462.5" y="156.2" font-size="0.82" fill="#0a2a12" transform="rotate(-15 462.5 156.2)" textLength="6" lengthAdjust="spacingAndGlyphs" opacity="0.85">N. MACEDONIA</text>
<text x="453.3" y="150.7" font-size="0.62" fill="#0a2a12" textLength="4.5" lengthAdjust="spacingAndGlyphs" opacity="0.85">MONTENEGRO</text>
<text x="538.2" y="173" font-size="3.5" fill="#444" textLength="10.5" lengthAdjust="spacingAndGlyphs">SYRIA</text>
<text x="509.2" y="184.9" font-size="1.56" fill="#444" textLength="6.5" lengthAdjust="spacingAndGlyphs" opacity="0.7">CYPRUS</text>
<text x="529" y="181.1" font-size="1.67" fill="#444" textLength="8" lengthAdjust="spacingAndGlyphs" opacity="0.7">LEBANON</text>
<text x="526.5" y="190.7" font-size="1.27" fill="#444" textLength="4.5" lengthAdjust="spacingAndGlyphs" opacity="0.7">ISRAEL</text>
<text x="439.5" y="191" font-size="1.57" fill="#444" textLength="5" lengthAdjust="spacingAndGlyphs" opacity="0.7">MALTA</text>
<text x="407" y="151.7" font-size="1.11" fill="#444" textLength="5" lengthAdjust="spacingAndGlyphs" opacity="0.7">MONACO</text>
<text x="537.7" y="189.3" font-size="1.22" fill="#444" transform="rotate(-25 537.7 189.3)" textLength="5" lengthAdjust="spacingAndGlyphs" opacity="0.7">JORDAN</text>
</g></g>
<clipPath id="clipD"><rect x="325" y="8.95" width="205.04999999999995" height="183.65"/></clipPath>
<g transform="matrix(0.935,0,0,0.948,45.4,205.8)"><g clip-path="url(#clipD)">
<g stroke="#5a1010" stroke-width="0.42" stroke-linejoin="round" filter="url(#jag)">
<path d="M373,43.2 374.2,43.2 374.2,44.4 373,44.4ZM378.2,47.4 379.2,47.4 379.2,48.6 378.2,48.6Z" fill="#f4a582"/>
<path d="M451.8,3 479.5,3 479.5,10 478.5,12.5 477,14.5 474.5,16 471,16.5 467.5,16 464.5,15 462,15 463.5,15.8 466,17 468.5,18.5 470.5,20.5 472,23 473.5,25.5 476,26.8 479.5,27 480.5,25.5 478.5,24.5 476,23.5 477,21.5 480,21.2 483,21 484,19 482,17.5 481,15 482,12.5 484,10 486.5,9 487,3 546,3 546,123.8 540,123.5 536,124 533,125 530,125 526,124.5 522,124 518,123.5 515,122.5 514.5,121.5 516.5,120 518.5,118.5 519,116 518,114.5 519.5,112 520.5,109.5 519.8,108.5 518,107.5 519,105.5 520.5,102 520,98 518,95.5 512.2,95.4 506.4,96.5 501.3,95.8 499.1,93.6 495.5,92.9 492.5,89.3 489.6,89.6 486.7,92.2 484.5,96.8 485.3,93.6 484.5,90 486.7,87.8 487.5,84.2 484.5,82.5 482,80.5 480,78.5 478,76 476,74.5 473,74 470,73.5 468.5,70.5 466.5,67.5 466,67 465,64 464.5,61 465,58 468,57.5 470,56.5 470.5,55 469,54 467.5,53 464.5,53 465,52 466,49 467,46 467.8,43 468,39.5 466.5,36.5 464,33 462.5,29.5 461,26 459.5,23 457.5,20 456.5,16.5 455,13 452.5,10ZM446.5,86.5 448.5,85 450,83.5 452,84 454.5,84.5 456,85.5 455.5,87.5 452.5,88 449.5,88.2 447,88Z" fill="#b2182b"/>
<path d="M542,72.2 546,72.2 546,90.5 541,90.5 540.5,88 539,85 538.8,81 539.5,79 541,78 541.5,75Z" fill="#c9d3dc"/>
<path d="M461.5,101 465,100 470,99.5 475,100 480,99 484.5,96.8 486.7,92.2 489.6,89.6 492.5,89.3 495.5,92.9 499.1,93.6 501.3,95.8 506.4,96.5 512.2,95.4 518,95.5 520,98 520.5,102 519,105.5 518,107.5 519.8,108.5 518,111 515.5,113.5 512.5,115.5 509.5,117.5 508,120.5 508,121.2 505.5,121.5 503.5,121.8 501,123 498,122 496,119.8 495,121.5 493,123.5 491.5,126 490,128 489,130 486.5,130.5 485.5,129 486,126.5 487.5,125.5 488.5,123.5 486,121 483,118.5 480,117 477,116 474.5,117 471,118.5 467.5,120 464,120.5 461.3,121 461.5,117.5 460.5,115 461,112 462,109 463.5,106 463,103ZM505.5,121.5 508,121.2 509.5,122.8 512,122.2 514.5,121.8 515,123 512.5,124 510.5,125 509,127 507.5,129 505.5,128.5 504.5,126.5 502,126 500.5,125.5 502.5,123.5 504.5,122.5Z" fill="#b2182b"/>
<path d="M460,88.5 462,87.5 463.5,85 465,82.5 466.5,80 465.5,77 468,76 470,73.5 473,74 476,74.5 478,76 480,78.5 482,80.5 484.5,82.5 487.5,84.2 486.7,87.8 484.5,90 485.3,93.6 484.5,96.8 480,99 475,100 470,99.5 465,100 461.5,101 460,98 461,95 460.5,91.5Z" fill="#d6604d"/>
<path d="M481.3,152.3 484,151.5 487.1,147.9 488.5,149.4 491.5,151.9 493.3,152.6 492.2,153.7 489.6,154.5 487.5,155.5 485.6,157 484.2,158.5 483.1,158.1 482.7,155.9 481.6,154.5ZM495.1,153 498,151.9 500.9,149.7 503,148 505.5,145.5 508.5,143.5 511.5,142 514.5,140.5 517,141 520,141.5 523.5,141.5 527,140.5 530,139 533,137 536,135 538,133 538.5,132 546,131.5 546,160.2 538,161 535,162 532,163.5 529.5,165 530,168 529.8,172.5 528.8,173 528.5,169 527.5,166.5 525,168 522.5,169.5 520,171.5 517.5,173 514.5,174 511,173.5 507.5,173 505,174 503,176.5 500,177.5 497.5,176.5 495,176 492.5,176.5 490.5,175 489.6,175 488.9,173.4 487.5,171.9 487.8,169.7 486,168.3 486.7,166.1 484.9,164.3 485.6,162.5 484.2,160.6 484.9,158.8 486,157.7 489.3,157 491.5,156.3 493.6,155.2 495.1,154.1Z" fill="#b2182b"/>
<path d="M529.5,165 532,163.5 535,162 538,161 546,160.2 546,197 529,197 529.5,189 530.5,185 530,181 529,177 528.8,173 529.8,172.5 530,168Z" fill="#c9d3dc"/>
<path d="M533,125 536,124 540,123.5 546,123.8 546,131.5 538.5,132 538,130.5 537,129 535,127Z" fill="#c9d3dc"/>
<path d="M513,183 514.5,181.2 516.5,179.8 519,178.2 521.5,176.5 522,177.2 520,179.5 519.5,181 517.5,182.5 515,183.5 513.5,183.8Z" fill="#f4a582"/>
<path d="M341.73,12.09 343.91,10.27 345.73,9.18 348.64,9.18 349.36,11 347.91,12.45 347.18,13.91 348.64,15 350.09,14.64 351.55,13.91 353.73,14.64 355.55,15.36 357.36,15 359.55,14.64 361,15.36 362.45,16.45 363.55,18.27 363.91,20.09 363.18,21.91 362.09,23.73 359.91,25.18 357.73,26.27 355.18,27.36 352.64,28.45 350.09,28.82 347.91,28.09 346.45,26.64 345,24.82 343.91,23.36 342.09,22.27 341.36,21.18 342.82,20.45 343.91,19.36 342.45,18.27 340.64,17.18 340.64,16.09 342.45,15.73 344.27,15.36 345,14.27 343.55,13.55 342.09,13.18Z" fill="#f4a582"/>
<path d="M434.5,3 446.2,3 445.5,8.5 443,8.8 440,10 437.5,9 436.5,9.5 434.5,13 432,17 430,21 428.5,25 427,29 426,33 424.2,37.5 422.5,42 421.8,46 421.5,51 421.8,57 420.5,61 418.5,62 416.5,65 414.5,66.5 411.5,68.5 408,69.5 405,68 403.4,64.5 402.3,58.5 402.9,53.8 405.1,49.5 409.5,45.8 413.8,42.2 417,39 419.5,35 421.5,31 423.5,27 425,23 427,19 428.5,15 430,11 432,8.5ZM426.8,14.5 428,11.5 430,8.8 430.8,9.2 429,12 427.6,15Z" fill="#f4a582"/>
<path d="M437.5,9 439.5,11.5 442.5,15 444,18.5 445,22.5 445.7,26.5 444.5,28 443,31 441.5,35 440,39 438,42.5 436,46 435,50 435,54 436.5,57 438.5,59.5 440,61 439.5,63.5 438,65 437.5,68 438,71 437.5,74 436,76 434.5,80 433,82.5 430.5,84.5 428,85 426,83.5 424.5,81 422.5,77 421,73 420,69 419.5,65 420.5,61 421.8,57 421.5,51 421.8,46 422.5,42 424.2,37.5 426,33 427,29 428.5,25 430,21 432,17 434.5,13 436.5,9.5ZM441,69.6 442.9,71.8 441.5,74.7 440.4,72.5ZM438.3,70.4 439,70.6 439.5,74 438.9,74.2Z" fill="#f4a582"/>
<path d="M446.2,3 451.8,3 452.5,10 455,13 456.5,16.5 457.5,20 459.5,23 461,26 462.5,29.5 464,33 466.5,36.5 468,39.5 467.8,43 467,46 466,49 465,52 464.5,53 461,54.5 458,56 455,57.5 452,58.5 449.5,57.5 447.5,55.5 446,53 445,50 444.5,47 444.5,43.5 445.5,40 447,37 448.5,34 450.5,30.5 450,28.5 446.5,27 445.7,26.5 445,22.5 444,18.5 442.5,15 439.5,11.5 437.5,9 440,10 443,8.8 445.5,8.5Z" fill="#f4a582"/>
<path d="M454.5,61.5 457,60 460,59 463,58.5 465,58 464.5,61 465,64 466,67 464,66.5 461,67 458.5,66 457,66 455,65 453.5,63.5ZM450,63.5 451.5,64 452,66 450.5,67.5 449.5,66ZM450.5,61 452,61.5 451.5,62.5 450.3,62.3Z" fill="#f4a582"/>
<path d="M449.5,77.5 449,74 449.5,71 450.5,69.5 452.5,68.5 454.5,70.5 455.5,72.5 457,71 458,68.5 458.5,66 461,67 464,66.5 466.5,67.5 468.5,70.5 470,73.5 468,76 465.5,77 463,76 460,75.5 457,76 454,76.5 451.5,77Z" fill="#f4a582"/>
<path d="M449.5,77.5 451.5,77 454,76.5 457,76 460,75.5 463,76 465.5,77 466.5,80 465,82.5 463.5,85 462,87.5 460,88.5 458,87.5 456,85.5 454.5,84.5 452,84 450,83.5 449.3,82 449.2,79.5Z" fill="#f4a582"/>
<path d="M430.2,94 433,90.5 436,89 440,88 444,87.5 446.5,88 447,88 449.5,88.2 452.5,88 455.5,87.5 458,87.5 460,88.5 460.5,91.5 461,95 460,98 461.5,101 463,103 463.5,106 462,109 461,112 460.5,115 456.5,114 453,115 450,116 446.5,116.5 445,115 442,113.5 439.5,112 437,111 435,109.5 432.3,109.3 432.8,106.5 431.8,104 430.8,101 430.8,97Z" fill="#d6604d"/>
<path d="M403.5,95 406.5,94.5 409.5,95 410.8,92.2 415,92.5 416.5,94 419.5,93.5 422.5,92 425,91 428.5,92.5 430.2,94 430.8,97 430.8,101 431.8,104 432.8,106.5 432.3,109.3 429,111 426,112.5 424,114 424.5,117 426,120 428.5,123 427.5,124.5 426,127 424,128 421,129 418,128.5 415,129 413.5,128 411,127 407.5,128.5 407,126.5 407.8,123 408.5,119.8 405.5,118.5 402.5,117.8 403.5,116 402.3,114.5 402,113 403,111 402.5,109 403.5,107 403.2,104 403.5,101 404.5,98Z" fill="#d6604d"/>
<path d="M410.5,80 410,84 410.5,88 410.8,92.2 415,92.5 416,90 415,87.5 417,85.5 416.5,82.5 418,80 417.5,77 418,74.5 415,76 412,77.5ZM417,86.5 419,86 419.5,88 417.5,88.8ZM420,84.5 423,83.5 424,86 422.5,88.5 420.5,88 419.8,86.2ZM419.5,89.5 422,89.8 422,90.6 419.5,90.4ZM430.8,84.4 431.8,84.4 431.8,85.4 430.8,85.4Z" fill="#f4a582"/>
<path d="M395.8,106 397,103 398.5,100 400.5,97 403.5,95 404.5,98 403.5,101 403.2,104 403.5,107 402.5,109 400.5,107.5 398,106.5Z" fill="#d6604d"/>
<path d="M391.5,107 395.8,106 398,106.5 400.5,107.5 402.5,109 403,111 402,113 402.3,114.5 401,115 399,114.5 397.5,113 395.5,111.5 393.5,110 392,108.5Z" fill="#d6604d"/>
<path d="M401,115 402.3,114.5 403.5,116 402.5,117.8 401.2,117Z" fill="#f4a582"/>
<path d="M363.5,118.5 364.5,117 367.5,116.5 371,116 374,116.5 374.5,114 376.5,113 377,115.5 380.5,115 384,113 387,110.5 389.5,108.5 391.5,107 392,108.5 393.5,110 395.5,111.5 397.5,113 399,114.5 401,115 401.2,117 402.5,117.8 405.5,118.5 408.5,119.8 407.8,123 407,126.5 407,128.3 405,130 403,131.5 402.5,133.5 404,135 403.5,137 404.5,139.5 403.5,142 404.5,145 405.5,148 404.5,149 402,150.5 399.5,151 397,150.5 394.5,149.5 392,149.5 390,150.5 389.5,153 388,152.5 385.5,152.5 382.5,152.5 380,151.5 377,151 373.5,149.5 370,147.5 371.5,146 373,142 374,138 374.8,134 374.5,131 372.5,127 371.5,124 369,122.5 366.5,121.5 364,120.5ZM411.5,154.5 413,153.5 414,156 413.8,160 412.5,162 411.2,161 410.5,158 410.8,155.5Z" fill="#d6604d"/>
<path d="M407.5,128.5 411,127 413.5,128 415,129 415.5,131 417.5,132 417,134 415,134.5 413.5,136 411.5,136.5 409.5,135 407.5,136 405.5,135.5 404,135 402.5,133.5 403,131.5 405,130 407,128.3Z" fill="#f4a582"/>
<path d="M415,129 418,128.5 421,129 424,128 426,127 427.5,124.5 428.5,123 430,122 432.5,122.5 435,121.5 438,121 440.5,121.5 441.5,124 441,126.5 440.5,129 439.5,130.5 438,131 435,131.5 432,132 429,132 426,131.5 423,131 420,131.5 417.5,132 415.5,131Z" fill="#f4a582"/>
<path d="M424,114 426,112.5 429,111 432.3,109.3 435,109.5 437,111 439.5,112 442,113.5 445,115 446.5,116.5 444.5,118.5 442.5,119.5 441.5,121.5 440.5,121.5 438,121 435,121.5 432.5,122.5 430,122 428.5,123 426,120 424.5,117Z" fill="#f4a582"/>
<path d="M441.5,121.5 442.5,119.5 444.5,118.5 446.5,116.5 450,116 453,115 456.5,114 460.5,115 461.5,117.5 461.5,120 459.5,119.5 456.5,119 453.5,120 450.5,121.5 447.5,122.5 444.5,123.5 442,123.5 441.3,122.5Z" fill="#f4a582"/>
<path d="M442,123.5 444.5,123.5 447.5,122.5 450.5,121.5 453.5,120 456.5,119 459.5,119.5 461.5,120 461,121.5 459.5,124.5 458,127.5 456,130 455,133 453.5,132.5 452,134 450,135.5 447,136 444,135 441.5,133.5 439.5,132 440.5,129 441,126.5 441.5,124Z" fill="#d6604d"/>
<path d="M429,132 432,132 435,131.5 438,131 439.5,130.5 439.5,132 438.5,134 436.5,135 434,136 432,136.5 430,136 429.5,134.5 429,133Z" fill="#f4a582"/>
<path d="M438.5,134 439.5,132 441.5,133.5 444,135 447,136 450,135.5 451.5,136.5 452,139 450.5,139.5 448,139 445,139.5 442.5,140 440,140.5 439,141.5 440.5,144 442.5,146.5 444.5,149 446.5,151 449,153 450,154 448,152.5 445.5,150.5 443,148.5 440.5,146.5 438,145 436.5,144 435,141.5 433.5,139.5 432,140 431.5,140 431,138 430.5,136.5 432,136.5 434,136 436.5,135Z" fill="#f4a582"/>
<path d="M439,141.5 440,140.5 442.5,140 445,139.5 448,139 450.5,139.5 452,139 452.5,142 453,145 454,147.5 452.5,147.5 450.5,149.5 450,151 449,153 446.5,151 444.5,149 442.5,146.5 440.5,144Z" fill="#f4a582"/>
<path d="M451.5,136.5 450,135.5 452,134 453.5,132.5 455,133 457.5,135 459.5,137.5 461.5,139.5 464,140.5 465,141.5 465.5,144 466.5,146.5 467,149.5 466.5,151.5 467,154 464,153 461.5,152.5 460,152.5 459.5,150.5 457.5,149.5 456,148.5 454,147.5 453,145 452.5,142 452,139Z" fill="#d6604d"/>
<path d="M450.5,149.5 452.5,147.5 454,147.5 456,148.5 456.5,150.5 456.5,153 455,152.5 453.5,153.5 452,152 450,151Z" fill="#f4a582"/>
<path d="M456,148.5 457.5,149.5 459.5,150.5 460,152.5 458.5,154 456.5,153 456.5,150.5Z" fill="#f4a582"/>
<path d="M453.5,153.5 455,152.5 456.5,153 458.5,154 457.5,155.5 458,158 458.5,161 457,163 455.5,161.5 454.5,158.5 454,155.5Z" fill="#d6604d"/>
<path d="M458.5,154 460,152.5 461.5,152.5 464,153 467,154 467,156.5 465,158 462,158.5 459.5,159 458,158 457.5,155.5Z" fill="#d6604d"/>
<path d="M465,141.5 467.5,143 471,143.5 475,142.5 479,141 483,139.5 486,140 487,142 486.5,145 485.5,148 487,148.2 487.1,148 484,151.5 481.3,152.3 480,154 477,154.5 474,155 470.5,154.5 467,154 466.5,151.5 467,149.5 466.5,146.5 465.5,144Z" fill="#d6604d"/>
<path d="M461,121.5 464,120.5 467.5,120 471,118.5 474.5,117 477,116 478,117.5 480,119.5 482,122 483.5,124.5 484.5,127 485.5,129 486.5,130.5 489,130 490,132 488.5,134.5 488,138 487,140 486,140 483,139.5 479,141 475,142.5 471,143.5 467.5,143 465,141.5 464,140.5 461.5,139.5 459.5,137.5 457.5,135 455,133 456,130 458,127.5 459.5,124.5Z" fill="#d6604d"/>
<path d="M477,116 480,117 483,118.5 486,121 488.5,123.5 487.5,125.5 486,126.5 485.5,129 484.5,127 483.5,124.5 482,122 480,119.5 478,117.5Z" fill="#f4a582"/>
<path d="M458.5,161 458,158 459.5,159 462,158.5 465,158 467,156.5 467,154 470.5,154.5 474,155 477,154.5 480,154 481.3,152.3 481.6,154.5 482.4,156 481.5,157.5 479.5,158 476.5,158.5 474,160 475.2,161.8 474.2,163 473.2,161 472.6,163.5 471.6,161 471.5,160.5 470,162 469,164.5 470,167 471.5,169 474,170.5 476.5,172 479,173.7 478.5,174.7 475.5,173.6 473,173 471,172.5 469,173 466,173.5 463.5,173.5 461.5,172 460,170 459,167.5 459.5,165 457,163ZM465,175 467.5,174 470.5,174 473,175 474.5,177 473.5,179 474.5,181.5 474,184 472.5,182 471.5,183.5 470,181.5 468.5,182.5 467,180 465.5,177.5ZM476.5,187 479,186.5 482,186.8 485,186.5 488.5,186.5 488.5,187.5 485.5,188 482,188.5 479,188.2 476.5,188ZM494,180 495.2,180.8 494.6,182.6 493.8,181.5Z" fill="#d6604d"/>
<path d="M405.5,148 404.5,145 403.5,142 404.5,139.5 403.5,137 404,135 405.5,135.5 407.5,136 409.5,135 411.5,136.5 413.5,136 415,134.5 417,134 417.5,132 420,131.5 423,131 426,131.5 429,132 429,133 429.5,134.5 430,136 428,136.5 426,138 425,140.5 425.5,143.5 427.5,146 430,149 432,152 434,155 436,157 438.5,157.5 440.5,158 439.5,159.5 442,160.5 444.5,161.5 447.5,163 450,164.5 451.2,166 450.5,167.5 449,166 447,165 445,165.5 443.5,167 444,169 445.5,170.5 446,172.5 444.5,174.5 443.5,176.5 442,178.5 440.5,179 441.5,177.5 442.2,175 441.5,172.5 439.5,170 437,168 435,166 433.5,164 431,162.5 428.5,161 425.5,159.5 423,157.5 420.5,155 419,153.5 417.5,151 416,148.5 413.5,146.5 410.5,145.5 408,147ZM426.5,179.5 429,178.5 432,178.8 435,178.5 438.5,177.8 439.5,178.5 439,180.5 438.5,183 437.5,185 435.5,184 433,183 430.5,182 428,181.2 426.5,180.5ZM408.5,164.5 410.5,163.5 413,163 414.5,164.5 414.8,168 414.2,171.5 413,174 411,174.8 409.5,173.5 409,170 408.8,167Z" fill="#b2182b"/>
<path d="M340.5,142.5 343,141.5 346,140.5 348.5,140.5 351.5,142 355,143.5 359,144.5 363,145 366.5,146 370,147.5 373.5,149.5 377,151 380,151.5 382.5,152.5 385.5,152.5 388,152.5 389.5,153 389,155 387.5,157.5 385,159.5 382,161 379.5,162 377.5,163.5 375.5,165.5 374,168 373.2,170.5 373.5,172 372,175 369.5,177 366.5,178 364.5,179.5 363,181.5 360.5,181.2 357.5,181 354,181 351,181.5 349,182.5 347.5,183.5 346,181.5 345,179 343.5,176.5 342.5,174.5 343,171 344,168 345,165 346,162 346.5,159 346.8,157 348,155 350,153 349.5,151 347,150 344,149.5 341.5,149 341,147.5 340,145ZM385,168.5 387.5,167.8 389,169.5 387.5,171 385.5,170.5ZM391,167.3 392.6,167.6 392.5,168.4 391,168.2ZM379.8,171.5 381.2,171.3 381.2,172.7 379.8,172.6Z" fill="#b2182b"/>
<path d="M341.5,149 344,149.5 347,150 349.5,151 350,153 348,155 346.8,157 346.5,159 346,162 345,165 344,168 343,171 342.5,174.5 340.5,174.8 337.5,174.5 335,174 334.6,172 335.2,169 334.6,166 335.3,163 337,160 339,156.5 340.5,152.5Z" fill="#b2182b"/>
<path d="M336,197 338.5,192 341,190 343,188 345,185.5 347,184 348.5,185.5 349.5,187.5 352,188.5 355,189 358.5,189.5 361,190 362.5,191 363,197Z" fill="#b2182b"/>
<path d="M362.5,191 364.5,190 367.5,189 370.5,188 374,186.8 377.5,185.8 381,185.2 385,184.8 389.6,184.8 395.5,184.4 401.3,183.8 405,184.3 408.5,185 409,187 408.5,190 408,197 363,197Z" fill="#b2182b"/>
<path d="M408,197 408.5,190 409,187 408.5,185 410.5,185 413,183.8 415.5,183.5 417.5,184.5 418.5,186 420.5,184.5 420.8,186 419.5,188 420,190 420.5,192 420,197Z" fill="#b2182b"/>
<path d="M358.5,81.5 360.5,80 362.5,79.8 361.5,82 360,83.5 361.5,84.5 363.5,86 365,87 364.8,90 364.5,93 363,95 360,96.2 356.5,97 353,97.2 350,96.8 349.5,95 351,93.5 353,92 352,90 352.5,87.5 354,85.5 353.5,83.5 355.5,83 357,82Z" fill="#f4a582"/>
<path d="M372.5,65 375,64 378,64 378,64.5 377,66.5 375.5,69 378.5,69.5 381.5,70 382,72 380,75 378.5,77.5 378,79 380,80 381,83 382,86 383,89 384,92 385.2,94.5 387.5,96 389,98 388,100.5 385.5,102 387.5,103 386.5,105 384,106.5 381,107 378,107.5 375.5,107 373,107.2 370.5,106.8 367.5,107 365,108.5 362.5,108.5 364.5,107 367,105 369.5,103.5 372,102 373.5,100 371,99.5 368.5,99 365.5,98.5 366.5,96.5 369,95 371,93 369.5,91.5 372,90.5 374.3,89 374.5,87 375,85.5 374.5,85 372.5,84.5 370,84 369,82 370,79.5 369,77 370,75 371.5,72.5 370.5,70.5 371.5,67.5ZM361.5,82 362.5,79.8 365,80.5 367.2,82 367.8,84.5 366.5,86.2 365,87 363.5,86 361.5,84.5 360,83.5ZM365.5,70 367.5,66 370,64 369.8,65.8 367.8,69 366.2,70.8ZM367,75 369.5,74.5 370,76 367.5,76.5ZM366.5,77.7 369,78.1 369,79 366.5,78.6ZM379,63.5 381,61.5 381.8,62.5 380.2,64ZM385.5,57 387,54 388,54 387,57.5Z" fill="#f4a582"/>
<circle cx="484" cy="165.7" r="1.1" fill="#d6604d" stroke-width="0.168"/>
<circle cx="483.7" cy="170" r="0.7999999999999999" fill="#d6604d" stroke-width="0.168"/>
<circle cx="488" cy="172.5" r="0.7" fill="#d6604d" stroke-width="0.168"/>
<circle cx="461" cy="174.5" r="0.9" fill="#d6604d" stroke-width="0.168"/>
<circle cx="462" cy="177.5" r="0.7" fill="#d6604d" stroke-width="0.168"/>
<circle cx="457.5" cy="168" r="0.7999999999999999" fill="#d6604d" stroke-width="0.168"/>
<circle cx="479" cy="162.5" r="0.7" fill="#d6604d" stroke-width="0.168"/>
<circle cx="477" cy="159" r="0.6" fill="#d6604d" stroke-width="0.168"/>
<circle cx="491" cy="176.5" r="0.6" fill="#d6604d" stroke-width="0.168"/>
<circle cx="491.5" cy="184" r="0.6" fill="#d6604d" stroke-width="0.168"/>
<circle cx="481" cy="177" r="0.6" fill="#d6604d" stroke-width="0.168"/>
<circle cx="483" cy="178.5" r="0.6" fill="#d6604d" stroke-width="0.168"/>
<circle cx="484.5" cy="180" r="0.6" fill="#d6604d" stroke-width="0.168"/>
<circle cx="482" cy="181" r="0.6" fill="#d6604d" stroke-width="0.168"/>
<circle cx="485.5" cy="177.5" r="0.6" fill="#d6604d" stroke-width="0.168"/>
<circle cx="480.5" cy="179.5" r="0.6" fill="#d6604d" stroke-width="0.168"/>
<circle cx="486" cy="181" r="0.6" fill="#d6604d" stroke-width="0.168"/>
<circle cx="478.5" cy="176" r="0.6" fill="#d6604d" stroke-width="0.168"/>
<circle cx="487.5" cy="179" r="0.5" fill="#d6604d" stroke-width="0.168"/>
<circle cx="382.8" cy="153.2" r="0.85" fill="#f4a582" stroke="#5a1010" stroke-width="0.3"/>
<circle cx="405.2" cy="148.6" r="0.85" fill="#f4a582" stroke="#5a1010" stroke-width="0.3"/>
<circle cx="426.5" cy="158.8" r="0.85" fill="#f4a582" stroke="#5a1010" stroke-width="0.3"/>
<circle cx="434.5" cy="190.2" r="0.85" fill="#f4a582" stroke="#5a1010" stroke-width="0.3"/>
<circle cx="415.2" cy="130.2" r="0.85" fill="#f4a582" stroke="#5a1010" stroke-width="0.3"/>
<circle cx="426.3" cy="143.2" r="0.85" fill="#f4a582" stroke="#5a1010" stroke-width="0.3"/>
</g>
</g>
<g clip-path="url(#clipD)" font-family="Liberation Sans, Arial, sans-serif" text-anchor="middle">
<text x="353.9" y="23.0" font-size="3.46" fill="#571318" textLength="15.0" lengthAdjust="spacingAndGlyphs" stroke="#571318" stroke-width="0.17">ICELAND</text>
<text x="413.6" y="57.6" font-size="3.43" fill="#571318" transform="rotate(-49 413.6 57.6)" textLength="15" lengthAdjust="spacingAndGlyphs" stroke="#571318" stroke-width="0.17">NORWAY</text>
<text x="428.2" y="62.6" font-size="4.21" fill="#571318" transform="rotate(-54 428.2 62.6)" textLength="18.5" lengthAdjust="spacingAndGlyphs" stroke="#571318" stroke-width="0.17">SWEDEN</text>
<text x="455.4" y="44.5" font-size="3.81" fill="#571318" textLength="16.3" lengthAdjust="spacingAndGlyphs" stroke="#571318" stroke-width="0.17">FINLAND</text>
<text x="513.3" y="51.6" font-size="6.6" fill="#571318" textLength="33.4" lengthAdjust="spacing" stroke="#571318" stroke-width="0.3">RUSSIA</text>
<text x="459.5" y="63.3" font-size="1.6" fill="#571318" textLength="7" lengthAdjust="spacingAndGlyphs" opacity="0.85">ESTONIA</text>
<text x="461.5" y="73.5" font-size="1.78" fill="#571318" textLength="6" lengthAdjust="spacingAndGlyphs" opacity="0.85">LATVIA</text>
<text x="458.2" y="81.6" font-size="2.2" fill="#571318" textLength="11.5" lengthAdjust="spacingAndGlyphs" opacity="0.85">LITHUANIA</text>
<text x="473.5" y="92" font-size="3.86" fill="#571318" textLength="18" lengthAdjust="spacingAndGlyphs" stroke="#571318" stroke-width="0.17">BELARUS</text>
<text x="447" y="102.8" font-size="4.62" fill="#571318" textLength="19" lengthAdjust="spacingAndGlyphs" stroke="#571318" stroke-width="0.17">POLAND</text>
<text x="417.2" y="109" font-size="4.45" fill="#571318" textLength="22.5" lengthAdjust="spacingAndGlyphs" stroke="#571318" stroke-width="0.17">GERMANY</text>
<text x="487.3" y="109" font-size="4.81" fill="#571318" textLength="21.4" lengthAdjust="spacingAndGlyphs" stroke="#571318" stroke-width="0.17">UKRAINE</text>
<text x="388.7" y="131.8" font-size="4.74" fill="#571318" textLength="19.5" lengthAdjust="spacingAndGlyphs" stroke="#571318" stroke-width="0.17">FRANCE</text>
<text x="360.5" y="163.6" font-size="4.99" fill="#571318" textLength="14.6" lengthAdjust="spacingAndGlyphs" stroke="#571318" stroke-width="0.17">SPAIN</text>
<text x="415.5" y="142" font-size="4.18" fill="#571318" textLength="11" lengthAdjust="spacingAndGlyphs" stroke="#571318" stroke-width="0.17">ITALY</text>
<text x="471.7" y="132.9" font-size="3.54" fill="#571318" textLength="16.5" lengthAdjust="spacingAndGlyphs" stroke="#571318" stroke-width="0.17">ROMANIA</text>
<text x="520.3" y="158.6" font-size="5.2" fill="#571318" transform="rotate(-17 520.3 158.6)" textLength="26.2" lengthAdjust="spacing" stroke="#571318" stroke-width="0.17">TÜRKIYE</text>
<text x="387.6" y="192.3" font-size="4.61" fill="#571318" textLength="20" lengthAdjust="spacingAndGlyphs" stroke="#571318" stroke-width="0.17">ALGERIA</text>
<text x="350.7" y="192.9" font-size="3.09" fill="#571318" textLength="16.5" lengthAdjust="spacingAndGlyphs" stroke="#571318" stroke-width="0.17">MOROCCO</text>
<text x="417.7" y="191.2" font-size="3.42" fill="#571318" textLength="13.5" lengthAdjust="spacingAndGlyphs" stroke="#571318" stroke-width="0.17">TUNISIA</text>
<text x="336.3" y="158.2" font-size="2.55" fill="#571318" textLength="14" lengthAdjust="spacingAndGlyphs" opacity="0.85">PORTUGAL</text>
<text x="343.2" y="86.8" font-size="3.32" fill="#571318" textLength="14.4" lengthAdjust="spacingAndGlyphs" stroke="#571318" stroke-width="0.17">IRELAND</text>
<text x="380.2" y="91.9" font-size="2.79" fill="#571318" textLength="24.5" lengthAdjust="spacingAndGlyphs" stroke="#571318" stroke-width="0.17">UNITED KINGDOM</text>
<text x="403.2" y="81.3" font-size="2.5" fill="#571318" textLength="12.5" lengthAdjust="spacingAndGlyphs" opacity="0.85">DENMARK</text>
<text x="396.2" y="95.2" font-size="1.95" fill="#571318" textLength="14.5" lengthAdjust="spacingAndGlyphs" opacity="0.85">NETHERLANDS</text>
<text x="398.5" y="111.4" font-size="1.56" fill="#571318" textLength="7" lengthAdjust="spacingAndGlyphs" opacity="0.85">BELGIUM</text>
<text x="398.7" y="119" font-size="0.91" fill="#571318" textLength="6.5" lengthAdjust="spacingAndGlyphs" opacity="0.85">LUXEMBOURG</text>
<text x="435" y="116.6" font-size="2.05" fill="#571318" textLength="9" lengthAdjust="spacingAndGlyphs" opacity="0.85">CZECHIA</text>
<text x="432.8" y="127.6" font-size="2.19" fill="#571318" transform="rotate(-25 432.8 127.6)" textLength="9.5" lengthAdjust="spacingAndGlyphs" opacity="0.85">AUSTRIA</text>
<text x="449.5" y="128.6" font-size="2.61" fill="#571318" transform="rotate(-22 449.5 128.6)" textLength="13" lengthAdjust="spacingAndGlyphs" stroke="#571318" stroke-width="0.17">HUNGARY</text>
<text x="448.4" y="120.8" font-size="1.81" fill="#571318" transform="rotate(-16 448.4 120.8)" textLength="8.8" lengthAdjust="spacingAndGlyphs" opacity="0.85">SLOVAKIA</text>
<text x="409.2" y="132.6" font-size="1.92" fill="#571318" textLength="6.5" lengthAdjust="spacingAndGlyphs" opacity="0.85">SWITZ.</text>
<text x="458.2" y="144.4" font-size="2.04" fill="#571318" textLength="7.5" lengthAdjust="spacingAndGlyphs" opacity="0.85">SERBIA</text>
<text x="445.4" y="145.3" font-size="2.58" fill="#571318" textLength="4.3" lengthAdjust="spacingAndGlyphs" opacity="0.85">BIH</text>
<text x="444" y="138" font-size="1.6" fill="#571318" textLength="7" lengthAdjust="spacingAndGlyphs" opacity="0.85">CROATIA</text>
<text x="475.2" y="149.2" font-size="2.27" fill="#571318" transform="rotate(-8 475.2 149.2)" textLength="11.5" lengthAdjust="spacingAndGlyphs" opacity="0.85">BULGARIA</text>
<text x="470.5" y="166.4" font-size="3.32" fill="#571318" textLength="14" lengthAdjust="spacingAndGlyphs" stroke="#571318" stroke-width="0.17">GREECE</text>
<text x="483" y="122" font-size="1.42" fill="#571318" transform="rotate(55 483 122)" textLength="7" lengthAdjust="spacingAndGlyphs" opacity="0.85">MOLDOVA</text>
<text x="433.5" y="134.3" font-size="1.1" fill="#571318" textLength="5.5" lengthAdjust="spacingAndGlyphs" opacity="0.85">SLOVENIA</text>
<text x="458" y="151.8" font-size="0.69" fill="#571318" textLength="3" lengthAdjust="spacingAndGlyphs" opacity="0.85">KOSOVO</text>
<text x="456" y="158.5" font-size="0.95" fill="#571318" transform="rotate(70 456 158.5)" textLength="4" lengthAdjust="spacingAndGlyphs" opacity="0.85">ALBANIA</text>
<text x="462.5" y="156.2" font-size="0.82" fill="#571318" transform="rotate(-15 462.5 156.2)" textLength="6" lengthAdjust="spacingAndGlyphs" opacity="0.85">N. MACEDONIA</text>
<text x="453.3" y="150.7" font-size="0.62" fill="#571318" textLength="4.5" lengthAdjust="spacingAndGlyphs" opacity="0.85">MONTENEGRO</text>
<text x="538.2" y="173" font-size="3.5" fill="#7a3030" textLength="10.5" lengthAdjust="spacingAndGlyphs">SYRIA</text>
<text x="509.2" y="184.9" font-size="1.56" fill="#7a3030" textLength="6.5" lengthAdjust="spacingAndGlyphs" opacity="0.7">CYPRUS</text>
<text x="529" y="181.1" font-size="1.67" fill="#7a3030" textLength="8" lengthAdjust="spacingAndGlyphs" opacity="0.7">LEBANON</text>
<text x="526.5" y="190.7" font-size="1.27" fill="#7a3030" textLength="4.5" lengthAdjust="spacingAndGlyphs" opacity="0.7">ISRAEL</text>
<text x="439.5" y="191" font-size="1.57" fill="#7a3030" textLength="5" lengthAdjust="spacingAndGlyphs" opacity="0.7">MALTA</text>
<text x="407" y="151.7" font-size="1.11" fill="#7a3030" textLength="5" lengthAdjust="spacingAndGlyphs" opacity="0.7">MONACO</text>
<text x="537.7" y="189.3" font-size="1.22" fill="#7a3030" transform="rotate(-25 537.7 189.3)" textLength="5" lengthAdjust="spacingAndGlyphs" opacity="0.7">JORDAN</text>
</g></g>
<g font-family="Liberation Sans, Arial, sans-serif" fill="#222">
<rect x="286" y="35.2" width="6.6" height="6.6" fill="#fd8d3c" stroke="#bdbdbd" stroke-width="0.3"/>
<text x="300.4" y="40.52" font-size="5.6" textLength="35.6" lengthAdjust="spacingAndGlyphs">&gt;=10 Millions</text>
<rect x="286" y="44.7" width="6.6" height="6.6" fill="#fdca60" stroke="#bdbdbd" stroke-width="0.3"/>
<text x="300.4" y="50.02" font-size="5.6" textLength="39" lengthAdjust="spacingAndGlyphs">1 – 10 Millions</text>
<rect x="286" y="53.7" width="6.6" height="6.6" fill="#fcf7c2" stroke="#bdbdbd" stroke-width="0.3"/>
<text x="300.4" y="59.02" font-size="5.6" textLength="33" lengthAdjust="spacingAndGlyphs">&gt;=1 Millions</text>
<rect x="15" y="227.0" width="5.6" height="5.6" fill="#1b7837" stroke="#bdbdbd" stroke-width="0.3"/>
<text x="26" y="231.82" font-size="5.6" textLength="33.6" lengthAdjust="spacingAndGlyphs">&lt;=1 Millions</text>
<rect x="15" y="236.39999999999998" width="5.6" height="5.6" fill="#5aae61" stroke="#bdbdbd" stroke-width="0.3"/>
<text x="26" y="241.22" font-size="5.6" textLength="56.4" lengthAdjust="spacingAndGlyphs">100,000 – 1 Millions</text>
<rect x="15" y="246.0" width="5.6" height="5.6" fill="#a6dba0" stroke="#bdbdbd" stroke-width="0.3"/>
<text x="26" y="250.82" font-size="5.6" textLength="29" lengthAdjust="spacingAndGlyphs">&gt;=100,000</text>
<rect x="287.4" y="225.0" width="6" height="6" fill="#b2182b" stroke="#bdbdbd" stroke-width="0.3"/>
<text x="297.4" y="229.76" font-size="4.9" textLength="30" lengthAdjust="spacingAndGlyphs">&lt;=1 Millions</text>
<rect x="287.4" y="234.2" width="6" height="6" fill="#d6604d" stroke="#bdbdbd" stroke-width="0.3"/>
<text x="297.4" y="238.96" font-size="4.9" textLength="49.2" lengthAdjust="spacingAndGlyphs">100,000 – 1 Millions</text>
<rect x="287.4" y="243.8" width="6" height="6" fill="#f4a582" stroke="#bdbdbd" stroke-width="0.3"/>
<text x="297.4" y="248.56" font-size="4.9" textLength="25.6" lengthAdjust="spacingAndGlyphs">&gt;=100,000</text>
</g>
<g font-family="Liberation Serif, Times New Roman, serif" fill="#111" text-anchor="middle">
<text x="135.5" y="210.3" font-size="12.5" font-weight="bold" textLength="19.5" lengthAdjust="spacingAndGlyphs">(A)</text>
<text x="413.2" y="210.3" font-size="12.5" font-weight="bold" textLength="18.3" lengthAdjust="spacingAndGlyphs">(B)</text>
<text x="135.4" y="408.6" font-size="12.5" textLength="18.9" lengthAdjust="spacingAndGlyphs">(C)</text>
<text x="413.2" y="408.8" font-size="12.5" textLength="20.3" lengthAdjust="spacingAndGlyphs">(D)</text>
</g>
</svg></body></html>
